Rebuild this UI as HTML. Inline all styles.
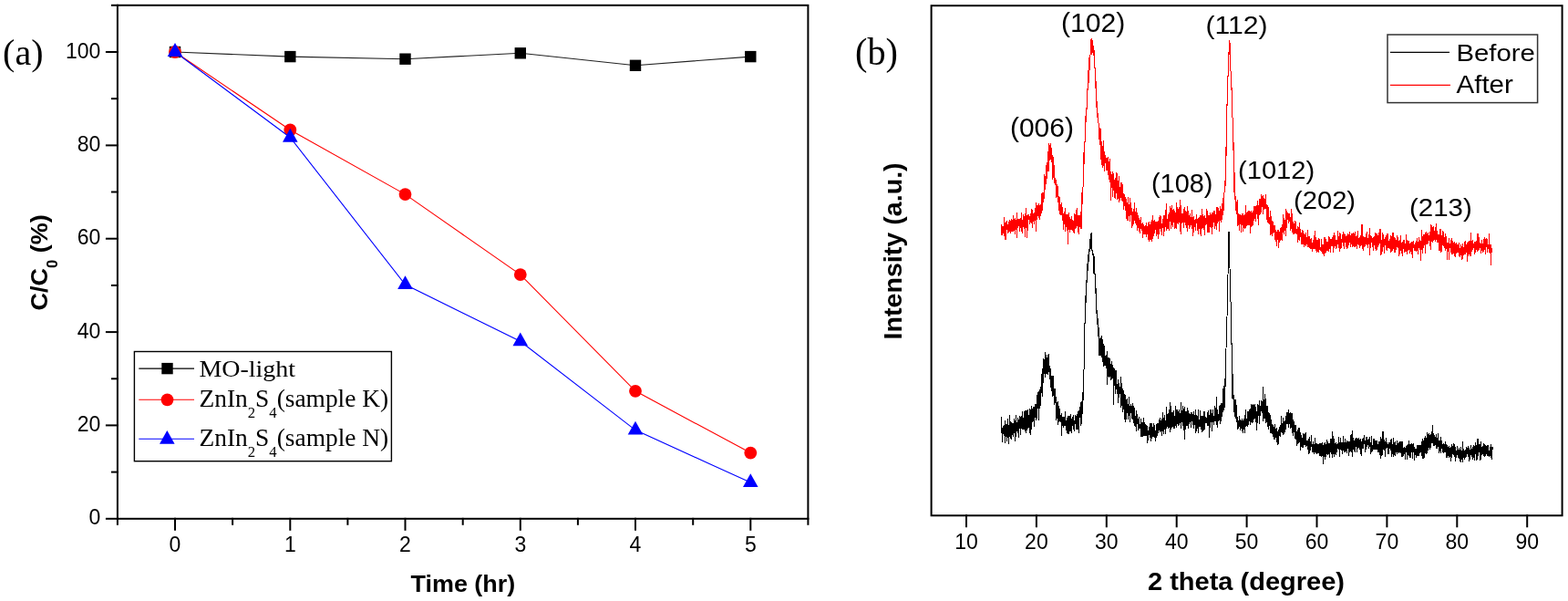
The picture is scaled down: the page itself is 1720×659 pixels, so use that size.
<!DOCTYPE html>
<html><head><meta charset="utf-8"><title>Figure</title>
<style>
html,body{margin:0;padding:0;background:#fff;}
body{width:1720px;height:659px;overflow:hidden;}
svg{display:block;}
.s{font-family:"Liberation Sans",Arial,sans-serif;}
.t{font-family:"Liberation Serif","Times New Roman",serif;}
</style></head><body>
<svg width="1720" height="659" viewBox="0 0 1720 659">
<rect width="1720" height="659" fill="#fff"/>

<g stroke="#000" stroke-width="2" fill="none" stroke-linecap="square">
<rect x="128.9" y="5.8" width="757.5" height="563.0"/>
<line x1="116.9" y1="568.8" x2="128.9" y2="568.8"/>
<line x1="116.9" y1="466.4" x2="128.9" y2="466.4"/>
<line x1="116.9" y1="364.1" x2="128.9" y2="364.1"/>
<line x1="116.9" y1="261.7" x2="128.9" y2="261.7"/>
<line x1="116.9" y1="159.4" x2="128.9" y2="159.4"/>
<line x1="116.9" y1="57.0" x2="128.9" y2="57.0"/>
<line x1="122.9" y1="517.6" x2="128.9" y2="517.6"/>
<line x1="122.9" y1="415.3" x2="128.9" y2="415.3"/>
<line x1="122.9" y1="312.9" x2="128.9" y2="312.9"/>
<line x1="122.9" y1="210.5" x2="128.9" y2="210.5"/>
<line x1="122.9" y1="108.2" x2="128.9" y2="108.2"/>
<line x1="122.9" y1="5.8" x2="128.9" y2="5.8"/>
<line x1="192.0" y1="568.8" x2="192.0" y2="580.8"/>
<line x1="318.3" y1="568.8" x2="318.3" y2="580.8"/>
<line x1="444.5" y1="568.8" x2="444.5" y2="580.8"/>
<line x1="570.8" y1="568.8" x2="570.8" y2="580.8"/>
<line x1="697.0" y1="568.8" x2="697.0" y2="580.8"/>
<line x1="823.3" y1="568.8" x2="823.3" y2="580.8"/>
<line x1="128.9" y1="568.8" x2="128.9" y2="574.8"/>
<line x1="255.1" y1="568.8" x2="255.1" y2="574.8"/>
<line x1="381.4" y1="568.8" x2="381.4" y2="574.8"/>
<line x1="507.7" y1="568.8" x2="507.7" y2="574.8"/>
<line x1="633.9" y1="568.8" x2="633.9" y2="574.8"/>
<line x1="760.2" y1="568.8" x2="760.2" y2="574.8"/>
<line x1="886.4" y1="568.8" x2="886.4" y2="574.8"/>
</g>
<g class="s" font-size="23" fill="#000">
<text x="110.4" y="575.4" text-anchor="end">0</text>
<text x="110.4" y="473.0" text-anchor="end">20</text>
<text x="110.4" y="370.7" text-anchor="end">40</text>
<text x="110.4" y="268.3" text-anchor="end">60</text>
<text x="110.4" y="166.0" text-anchor="end">80</text>
<text x="110.4" y="63.6" text-anchor="end">100</text>
<text x="192.0" y="604.6" text-anchor="middle">0</text>
<text x="318.3" y="604.6" text-anchor="middle">1</text>
<text x="444.5" y="604.6" text-anchor="middle">2</text>
<text x="570.8" y="604.6" text-anchor="middle">3</text>
<text x="697.0" y="604.6" text-anchor="middle">4</text>
<text x="823.3" y="604.6" text-anchor="middle">5</text>
</g>
<text font-family='"Liberation Sans", Arial, sans-serif' font-weight="bold" font-size="26" transform="translate(450.50,648.62) scale(1.0367,0.9756)" fill="#000">Time (hr)</text>
<text font-family='"Liberation Sans", Arial, sans-serif' font-weight="bold" font-size="26" transform="translate(51.86,340.55) rotate(-90) scale(1.0405,1.0137)" fill="#000">C/C<tspan font-size="16" dy="11.3">0</tspan><tspan dy="-11.3"> (%)</tspan></text>
<text font-family='"Liberation Serif", "Times New Roman", serif' font-weight="normal" font-size="41" transform="translate(3.05,70.51) scale(0.9765,1.0011)" fill="#000">(a)</text>
<polyline points="192.0,57.0 318.3,62.1 444.5,64.7 570.8,58.3 697.0,71.8 823.3,62.1" fill="none" stroke="#222" stroke-width="1.1"/>
<rect x="185.8" y="50.8" width="12.4" height="12.4" fill="#000"/>
<rect x="312.1" y="55.9" width="12.4" height="12.4" fill="#000"/>
<rect x="438.3" y="58.5" width="12.4" height="12.4" fill="#000"/>
<rect x="564.6" y="52.1" width="12.4" height="12.4" fill="#000"/>
<rect x="690.8" y="65.6" width="12.4" height="12.4" fill="#000"/>
<rect x="817.1" y="55.9" width="12.4" height="12.4" fill="#000"/>
<polyline points="192.0,57.0 318.3,142.5 444.5,213.1 570.8,301.1 697.0,428.8 823.3,496.6" fill="none" stroke="#f00" stroke-width="1.1"/>
<circle cx="192.0" cy="57.0" r="6.9" fill="#f00"/>
<circle cx="318.3" cy="142.5" r="6.9" fill="#f00"/>
<circle cx="444.5" cy="213.1" r="6.9" fill="#f00"/>
<circle cx="570.8" cy="301.1" r="6.9" fill="#f00"/>
<circle cx="697.0" cy="428.8" r="6.9" fill="#f00"/>
<circle cx="823.3" cy="496.6" r="6.9" fill="#f00"/>
<polyline points="192.0,57.0 318.3,150.7 444.5,312.1 570.8,374.3 697.0,471.6 823.3,529.1" fill="none" stroke="#00f" stroke-width="1.1"/>
<polygon points="192.0,47.1 200.3,62.0 183.7,62.0" fill="#00f"/>
<polygon points="318.3,140.8 326.6,155.7 310.0,155.7" fill="#00f"/>
<polygon points="444.5,302.2 452.8,317.1 436.2,317.1" fill="#00f"/>
<polygon points="570.8,364.4 579.1,379.3 562.5,379.3" fill="#00f"/>
<polygon points="697.0,461.7 705.3,476.6 688.7,476.6" fill="#00f"/>
<polygon points="823.3,519.2 831.6,534.1 815.0,534.1" fill="#00f"/>
<rect x="147.4" y="385.5" width="282" height="120.2" fill="#fff" stroke="#000" stroke-width="1.4"/>
<line x1="152.3" y1="404.1" x2="213" y2="404.1" stroke="#000" stroke-width="1.1"/>
<rect x="177.3" y="397.9" width="12.4" height="12.4" fill="#000"/>
<line x1="152.3" y1="438.3" x2="213" y2="438.3" stroke="#f00" stroke-width="1.1"/>
<circle cx="183.5" cy="438.3" r="6.9" fill="#f00"/>
<line x1="152.3" y1="481.2" x2="213" y2="481.2" stroke="#00f" stroke-width="1.1"/>
<polygon points="183.3,472.1 191.6,486.7 175.0,486.7" fill="#00f"/>
<text font-family='"Liberation Serif", "Times New Roman", serif' font-weight="normal" font-size="27" transform="translate(218.45,412.70) scale(1.0360,0.9684)" fill="#000">MO-light</text>
<text font-family='"Liberation Serif", "Times New Roman", serif' font-weight="normal" font-size="27" transform="translate(218.48,446.32) scale(1.0149,1.0154)" fill="#000">ZnIn<tspan font-size="16.5" dy="11.1">2</tspan><tspan dy="-11.1">S</tspan><tspan font-size="16.5" dy="11.1">4</tspan><tspan dy="-11.1">(sample K)</tspan></text>
<text font-family='"Liberation Serif", "Times New Roman", serif' font-weight="normal" font-size="27" transform="translate(218.48,489.37) scale(1.0149,1.0111)" fill="#000">ZnIn<tspan font-size="16.5" dy="11.1">2</tspan><tspan dy="-11.1">S</tspan><tspan font-size="16.5" dy="11.1">4</tspan><tspan dy="-11.1">(sample N)</tspan></text>
<g stroke="#000" stroke-width="2" fill="none" stroke-linecap="square">
<rect x="1021.6" y="6.2" width="692.0" height="559.1"/>
<line x1="1060.0" y1="565.3" x2="1060.0" y2="577.3"/>
<line x1="1136.9" y1="565.3" x2="1136.9" y2="577.3"/>
<line x1="1213.8" y1="565.3" x2="1213.8" y2="577.3"/>
<line x1="1290.7" y1="565.3" x2="1290.7" y2="577.3"/>
<line x1="1367.6" y1="565.3" x2="1367.6" y2="577.3"/>
<line x1="1444.5" y1="565.3" x2="1444.5" y2="577.3"/>
<line x1="1521.4" y1="565.3" x2="1521.4" y2="577.3"/>
<line x1="1598.3" y1="565.3" x2="1598.3" y2="577.3"/>
<line x1="1675.2" y1="565.3" x2="1675.2" y2="577.3"/>
</g>
<g class="s" font-size="23" fill="#000">
<text x="1060.0" y="601.6" text-anchor="middle">10</text>
<text x="1136.9" y="601.6" text-anchor="middle">20</text>
<text x="1213.8" y="601.6" text-anchor="middle">30</text>
<text x="1290.7" y="601.6" text-anchor="middle">40</text>
<text x="1367.6" y="601.6" text-anchor="middle">50</text>
<text x="1444.5" y="601.6" text-anchor="middle">60</text>
<text x="1521.4" y="601.6" text-anchor="middle">70</text>
<text x="1598.3" y="601.6" text-anchor="middle">80</text>
<text x="1675.2" y="601.6" text-anchor="middle">90</text>
</g>
<text font-family='"Liberation Sans", Arial, sans-serif' font-weight="bold" font-size="28.5" transform="translate(1258.99,646.78) scale(1.0181,0.9546)" fill="#000">2 theta (degree)</text>
<text font-family='"Liberation Sans", Arial, sans-serif' font-weight="bold" font-size="28" transform="translate(989.17,372.55) rotate(-90) scale(1.0237,0.9722)" fill="#000">Intensity (a.u.)</text>
<text font-family='"Liberation Serif", "Times New Roman", serif' font-weight="normal" font-size="41" transform="translate(938.04,70.50) scale(0.9821,1.0033)" fill="#000">(b)</text>
<polyline points="1098.5,475.2 1098.6,469.5 1098.8,470.2 1098.9,456.8 1099.1,484.8 1099.2,480.5 1099.3,470.8 1099.5,478.0 1099.6,474.7 1099.8,469.2 1099.9,479.3 1100.0,470.8 1100.2,470.6 1100.3,467.5 1100.5,475.7 1100.6,472.1 1100.7,476.3 1100.9,468.7 1101.0,473.5 1101.2,466.7 1101.3,478.1 1101.4,473.8 1101.6,474.7 1101.7,475.2 1101.9,465.8 1102.0,477.6 1102.1,485.9 1102.3,461.6 1102.4,461.0 1102.6,462.5 1102.7,477.8 1102.8,473.1 1103.0,479.3 1103.1,476.9 1103.3,473.6 1103.4,474.0 1103.5,471.0 1103.7,477.8 1103.8,464.7 1104.0,469.3 1104.1,473.6 1104.2,483.7 1104.4,466.9 1104.5,464.8 1104.7,468.2 1104.8,478.1 1104.9,470.2 1105.1,480.4 1105.2,459.5 1105.4,479.0 1105.5,478.4 1105.6,462.4 1105.8,472.6 1105.9,479.4 1106.1,472.1 1106.2,477.9 1106.3,486.8 1106.5,473.1 1106.6,469.5 1106.8,466.3 1106.9,475.4 1107.0,469.9 1107.2,470.0 1107.3,470.4 1107.5,475.3 1107.6,464.1 1107.7,461.0 1107.9,455.1 1108.0,478.6 1108.2,471.3 1108.3,480.5 1108.4,470.6 1108.6,465.8 1108.7,473.7 1108.9,470.0 1109.0,462.4 1109.1,464.7 1109.3,481.8 1109.4,472.6 1109.6,472.9 1109.7,468.4 1109.8,465.7 1110.0,475.8 1110.1,469.3 1110.3,465.0 1110.4,469.0 1110.5,463.9 1110.7,470.9 1110.8,476.9 1111.0,464.2 1111.1,478.7 1111.2,465.2 1111.4,470.4 1111.5,463.9 1111.7,467.8 1111.8,469.5 1111.9,466.3 1112.1,464.5 1112.2,464.6 1112.4,463.6 1112.5,458.8 1112.6,467.1 1112.8,471.3 1112.9,474.5 1113.1,472.7 1113.2,484.3 1113.3,470.5 1113.5,465.5 1113.6,480.3 1113.8,461.5 1113.9,474.4 1114.0,462.0 1114.2,470.3 1114.3,455.3 1114.5,473.7 1114.6,466.8 1114.7,461.6 1114.9,478.5 1115.0,472.5 1115.2,467.9 1115.3,462.7 1115.4,467.2 1115.6,466.3 1115.7,472.0 1115.9,472.4 1116.0,462.9 1116.1,463.6 1116.3,463.6 1116.4,458.4 1116.6,463.1 1116.7,466.3 1116.8,471.2 1117.0,475.2 1117.1,461.5 1117.3,470.1 1117.4,461.5 1117.5,479.7 1117.7,466.1 1117.8,469.6 1118.0,460.3 1118.1,461.1 1118.2,467.5 1118.4,463.7 1118.5,468.3 1118.7,456.1 1118.8,470.2 1118.9,460.2 1119.1,476.8 1119.2,463.9 1119.4,472.7 1119.5,456.8 1119.6,468.3 1119.8,459.9 1119.9,462.4 1120.1,465.7 1120.2,463.3 1120.3,467.0 1120.5,470.0 1120.6,469.3 1120.8,464.5 1120.9,456.4 1121.0,459.9 1121.2,463.7 1121.3,451.4 1121.5,469.5 1121.6,463.2 1121.7,463.0 1121.9,470.6 1122.0,468.7 1122.2,465.8 1122.3,458.0 1122.4,466.3 1122.6,466.4 1122.7,458.6 1122.9,470.7 1123.0,467.2 1123.1,451.5 1123.3,464.7 1123.4,455.8 1123.6,470.9 1123.7,468.8 1123.8,456.6 1124.0,457.9 1124.1,464.1 1124.3,461.9 1124.4,472.9 1124.5,467.9 1124.7,461.4 1124.8,466.7 1125.0,450.2 1125.1,464.9 1125.2,468.3 1125.4,461.7 1125.5,458.2 1125.7,466.2 1125.8,474.9 1125.9,463.8 1126.1,455.4 1126.2,471.5 1126.4,450.5 1126.5,465.4 1126.6,458.5 1126.8,467.9 1126.9,456.7 1127.1,470.2 1127.2,463.7 1127.3,450.9 1127.5,449.3 1127.6,459.6 1127.8,469.7 1127.9,462.3 1128.0,461.8 1128.2,459.8 1128.3,465.9 1128.5,465.4 1128.6,462.8 1128.7,454.8 1128.9,468.4 1129.0,469.4 1129.2,452.6 1129.3,475.1 1129.4,465.1 1129.6,457.4 1129.7,448.5 1129.9,464.4 1130.0,463.7 1130.1,456.4 1130.3,448.8 1130.4,467.0 1130.6,456.1 1130.7,456.8 1130.8,477.4 1131.0,472.8 1131.1,465.4 1131.3,456.4 1131.4,463.2 1131.5,444.8 1131.7,459.6 1131.8,454.1 1132.0,450.7 1132.1,448.7 1132.2,461.7 1132.4,458.9 1132.5,459.2 1132.7,463.3 1132.8,452.6 1132.9,450.1 1133.1,446.5 1133.2,455.4 1133.4,462.1 1133.5,456.3 1133.6,461.1 1133.8,449.5 1133.9,453.8 1134.1,451.8 1134.2,448.5 1134.3,467.8 1134.5,461.3 1134.6,450.9 1134.8,450.7 1134.9,454.9 1135.0,445.9 1135.2,457.5 1135.3,446.3 1135.5,451.8 1135.6,447.4 1135.7,450.5 1135.9,444.8 1136.0,443.0 1136.2,446.5 1136.3,447.9 1136.4,450.0 1136.6,452.0 1136.7,460.9 1136.9,456.0 1137.0,448.8 1137.1,454.7 1137.3,445.3 1137.4,458.5 1137.6,452.4 1137.7,432.8 1137.8,452.9 1138.0,452.9 1138.1,429.9 1138.3,441.9 1138.4,443.3 1138.5,433.4 1138.7,438.5 1138.8,438.8 1139.0,447.7 1139.1,445.8 1139.2,460.5 1139.4,440.2 1139.5,449.7 1139.7,442.1 1139.8,442.7 1139.9,432.6 1140.1,427.0 1140.2,433.8 1140.4,443.3 1140.5,448.0 1140.6,440.8 1140.8,439.4 1140.9,429.6 1141.1,444.8 1141.2,442.8 1141.3,429.3 1141.5,431.8 1141.6,424.5 1141.8,440.5 1141.9,432.4 1142.0,428.1 1142.2,430.6 1142.3,429.9 1142.5,422.9 1142.6,416.0 1142.7,414.5 1142.9,410.0 1143.0,424.2 1143.2,435.3 1143.3,406.3 1143.4,418.0 1143.6,418.7 1143.7,407.4 1143.9,414.7 1144.0,404.0 1144.1,419.5 1144.3,405.3 1144.4,409.3 1144.6,412.6 1144.7,403.5 1144.8,392.6 1145.0,401.2 1145.1,410.1 1145.3,403.1 1145.4,404.8 1145.5,394.4 1145.7,402.8 1145.8,406.5 1146.0,400.7 1146.1,414.2 1146.2,397.9 1146.4,391.2 1146.5,386.5 1146.7,406.9 1146.8,397.7 1146.9,405.6 1147.1,401.4 1147.2,410.2 1147.4,407.6 1147.5,395.4 1147.6,400.4 1147.8,406.6 1147.9,389.5 1148.1,409.6 1148.2,408.1 1148.3,406.6 1148.5,398.1 1148.6,402.1 1148.8,391.9 1148.9,400.9 1149.0,396.4 1149.2,401.7 1149.3,394.9 1149.5,403.8 1149.6,410.7 1149.7,392.9 1149.9,409.4 1150.0,388.6 1150.2,387.7 1150.3,402.9 1150.4,404.2 1150.6,407.8 1150.7,393.2 1150.9,405.1 1151.0,407.0 1151.1,415.6 1151.3,406.4 1151.4,411.5 1151.6,401.3 1151.7,407.5 1151.8,406.3 1152.0,415.1 1152.1,403.8 1152.3,405.6 1152.4,416.2 1152.5,425.3 1152.7,416.2 1152.8,416.3 1153.0,412.5 1153.1,423.1 1153.2,420.0 1153.4,429.0 1153.5,420.0 1153.7,411.9 1153.8,415.2 1153.9,413.1 1154.1,412.0 1154.2,429.8 1154.4,427.4 1154.5,414.3 1154.6,435.3 1154.8,425.6 1154.9,418.2 1155.1,429.9 1155.2,425.5 1155.3,421.4 1155.5,414.4 1155.6,428.2 1155.8,430.5 1155.9,412.3 1156.0,433.6 1156.2,434.7 1156.3,425.8 1156.5,432.8 1156.6,430.9 1156.7,428.0 1156.9,429.9 1157.0,443.5 1157.2,426.2 1157.3,437.7 1157.4,438.0 1157.6,433.1 1157.7,435.4 1157.9,430.1 1158.0,434.2 1158.1,440.3 1158.3,442.9 1158.4,435.9 1158.6,461.1 1158.7,439.2 1158.8,444.1 1159.0,442.5 1159.1,442.0 1159.3,453.1 1159.4,442.8 1159.5,454.4 1159.7,453.9 1159.8,441.2 1160.0,459.4 1160.1,444.8 1160.2,465.8 1160.4,447.6 1160.5,444.9 1160.7,439.7 1160.8,444.0 1160.9,448.8 1161.1,446.9 1161.2,446.1 1161.4,449.8 1161.5,453.2 1161.6,463.4 1161.8,445.4 1161.9,452.6 1162.1,450.7 1162.2,447.8 1162.3,449.7 1162.5,452.1 1162.6,461.8 1162.8,456.8 1162.9,455.1 1163.0,461.9 1163.2,460.3 1163.3,457.6 1163.5,461.4 1163.6,454.7 1163.7,463.2 1163.9,462.5 1164.0,457.7 1164.2,453.3 1164.3,469.1 1164.4,461.2 1164.6,478.2 1164.7,457.4 1164.9,466.1 1165.0,459.0 1165.1,463.1 1165.3,466.6 1165.4,457.5 1165.6,461.6 1165.7,463.3 1165.8,463.1 1166.0,466.0 1166.1,468.5 1166.3,467.6 1166.4,464.5 1166.5,461.2 1166.7,457.0 1166.8,459.3 1167.0,460.5 1167.1,467.4 1167.2,461.6 1167.4,456.8 1167.5,467.3 1167.7,459.4 1167.8,459.7 1167.9,462.7 1168.1,466.7 1168.2,450.6 1168.4,457.8 1168.5,465.1 1168.6,462.1 1168.8,459.4 1168.9,461.2 1169.1,472.0 1169.2,461.8 1169.3,468.3 1169.5,468.8 1169.6,461.9 1169.8,466.9 1169.9,461.9 1170.0,461.1 1170.2,458.2 1170.3,469.4 1170.5,462.3 1170.6,461.5 1170.7,458.3 1170.9,474.7 1171.0,468.8 1171.2,463.9 1171.3,460.8 1171.4,456.2 1171.6,466.4 1171.7,466.4 1171.9,457.0 1172.0,476.4 1172.1,469.1 1172.3,459.5 1172.4,461.8 1172.6,462.5 1172.7,465.8 1172.8,464.1 1173.0,455.8 1173.1,473.1 1173.3,466.7 1173.4,471.9 1173.5,471.9 1173.7,463.8 1173.8,466.9 1174.0,469.1 1174.1,472.7 1174.2,464.1 1174.4,461.6 1174.5,465.2 1174.7,460.6 1174.8,461.9 1174.9,453.8 1175.1,465.5 1175.2,459.3 1175.4,461.9 1175.5,464.7 1175.6,466.7 1175.8,475.4 1175.9,466.1 1176.1,457.1 1176.2,465.6 1176.3,461.6 1176.5,467.1 1176.6,461.0 1176.8,460.9 1176.9,461.9 1177.0,461.3 1177.2,454.6 1177.3,461.0 1177.5,464.5 1177.6,471.3 1177.7,462.9 1177.9,462.4 1178.0,467.7 1178.2,467.4 1178.3,473.2 1178.4,467.5 1178.6,464.1 1178.7,471.6 1178.9,472.6 1179.0,461.4 1179.1,464.9 1179.3,454.6 1179.4,461.8 1179.6,458.9 1179.7,462.5 1179.8,461.0 1180.0,462.7 1180.1,462.9 1180.3,466.2 1180.4,464.6 1180.5,460.1 1180.7,456.0 1180.8,470.0 1181.0,471.0 1181.1,460.4 1181.2,466.0 1181.4,454.1 1181.5,453.8 1181.7,460.9 1181.8,470.5 1181.9,456.1 1182.1,457.1 1182.2,470.6 1182.4,450.6 1182.5,464.7 1182.6,463.5 1182.8,459.3 1182.9,461.2 1183.1,474.8 1183.2,453.0 1183.3,457.3 1183.5,456.3 1183.6,454.4 1183.8,450.2 1183.9,466.7 1184.0,458.4 1184.2,446.5 1184.3,452.1 1184.5,458.1 1184.6,457.6 1184.7,446.4 1184.9,453.8 1185.0,455.3 1185.2,455.6 1185.3,455.1 1185.4,441.4 1185.6,462.7 1185.7,452.4 1185.9,461.4 1186.0,467.2 1186.1,448.5 1186.3,441.4 1186.4,453.5 1186.6,446.5 1186.7,444.1 1186.8,439.8 1187.0,455.7 1187.1,441.8 1187.3,434.9 1187.4,439.7 1187.5,434.1 1187.7,441.1 1187.8,436.1 1188.0,430.5 1188.1,439.4 1188.2,429.7 1188.4,436.2 1188.5,435.5 1188.7,418.6 1188.8,409.1 1188.9,406.8 1189.1,403.4 1189.2,388.3 1189.4,381.6 1189.5,373.6 1189.6,370.0 1189.8,366.7 1189.9,356.4 1190.1,353.0 1190.2,350.9 1190.3,343.7 1190.5,343.1 1190.6,340.8 1190.8,334.6 1190.9,328.4 1191.0,324.1 1191.2,331.6 1191.3,324.6 1191.5,312.9 1191.6,311.1 1191.7,320.1 1191.9,315.9 1192.0,307.5 1192.2,309.7 1192.3,296.2 1192.4,300.8 1192.6,302.2 1192.7,289.3 1192.9,292.3 1193.0,297.4 1193.1,297.2 1193.3,288.2 1193.4,290.4 1193.6,294.5 1193.7,284.4 1193.8,278.8 1194.0,282.8 1194.1,279.9 1194.3,285.9 1194.4,279.6 1194.5,274.1 1194.7,286.7 1194.8,273.0 1195.0,276.1 1195.1,275.9 1195.2,275.4 1195.4,271.8 1195.5,272.7 1195.7,269.1 1195.8,262.5 1195.9,266.3 1196.1,266.5 1196.2,266.1 1196.4,267.1 1196.5,263.5 1196.6,271.7 1196.8,272.6 1196.9,256.3 1197.1,265.9 1197.2,263.1 1197.3,255.3 1197.5,268.9 1197.6,265.1 1197.8,266.9 1197.9,266.7 1198.0,275.2 1198.2,276.9 1198.3,273.9 1198.5,277.0 1198.6,274.8 1198.7,277.3 1198.9,274.9 1199.0,279.7 1199.2,277.9 1199.3,284.1 1199.4,287.6 1199.6,286.9 1199.7,292.2 1199.9,300.2 1200.0,280.9 1200.1,291.6 1200.3,290.7 1200.4,293.0 1200.6,291.0 1200.7,299.2 1200.8,300.0 1201.0,300.6 1201.1,304.5 1201.3,305.4 1201.4,300.2 1201.5,317.4 1201.7,313.9 1201.8,313.6 1202.0,321.6 1202.1,319.9 1202.2,315.8 1202.4,331.5 1202.5,322.9 1202.7,331.5 1202.8,335.3 1202.9,342.8 1203.1,344.3 1203.2,341.9 1203.4,339.9 1203.5,343.2 1203.6,351.5 1203.8,356.3 1203.9,352.7 1204.1,349.4 1204.2,358.4 1204.3,354.2 1204.5,355.8 1204.6,358.1 1204.8,363.6 1204.9,363.9 1205.0,368.6 1205.2,371.5 1205.3,369.6 1205.5,358.8 1205.6,362.9 1205.7,372.3 1205.9,372.3 1206.0,390.3 1206.2,374.7 1206.3,374.7 1206.4,383.8 1206.6,385.4 1206.7,376.3 1206.9,382.3 1207.0,370.8 1207.1,372.8 1207.3,389.8 1207.4,370.4 1207.6,388.5 1207.7,387.2 1207.8,388.3 1208.0,389.9 1208.1,387.7 1208.3,367.7 1208.4,376.7 1208.5,380.2 1208.7,392.0 1208.8,376.9 1209.0,380.5 1209.1,383.5 1209.2,396.5 1209.4,376.0 1209.5,377.0 1209.7,392.4 1209.8,371.9 1209.9,390.8 1210.1,385.2 1210.2,377.1 1210.4,386.2 1210.5,382.1 1210.6,391.3 1210.8,393.2 1210.9,402.0 1211.1,391.1 1211.2,392.3 1211.3,387.6 1211.5,392.1 1211.6,400.5 1211.8,378.6 1211.9,398.3 1212.0,389.8 1212.2,394.7 1212.3,396.9 1212.5,401.2 1212.6,397.0 1212.7,392.7 1212.9,398.2 1213.0,396.4 1213.2,395.1 1213.3,398.5 1213.4,403.8 1213.6,398.7 1213.7,399.1 1213.9,388.8 1214.0,397.7 1214.1,385.3 1214.3,404.6 1214.4,392.7 1214.6,409.4 1214.7,422.2 1214.8,397.7 1215.0,410.6 1215.1,404.1 1215.3,394.2 1215.4,395.6 1215.5,406.1 1215.7,412.5 1215.8,405.2 1216.0,392.0 1216.1,395.6 1216.2,401.8 1216.4,413.6 1216.5,406.0 1216.7,406.6 1216.8,413.2 1216.9,403.3 1217.1,404.3 1217.2,403.9 1217.4,392.7 1217.5,409.0 1217.6,408.9 1217.8,413.1 1217.9,397.8 1218.1,400.7 1218.2,413.5 1218.3,409.3 1218.5,417.1 1218.6,401.3 1218.8,409.1 1218.9,403.1 1219.0,410.3 1219.2,404.9 1219.3,412.3 1219.5,416.4 1219.6,413.8 1219.7,396.3 1219.9,416.1 1220.0,412.8 1220.2,402.5 1220.3,403.8 1220.4,410.4 1220.6,414.6 1220.7,407.6 1220.9,399.6 1221.0,413.3 1221.1,412.7 1221.3,429.0 1221.4,403.0 1221.6,444.2 1221.7,424.8 1221.8,415.0 1222.0,424.8 1222.1,414.1 1222.3,420.6 1222.4,404.9 1222.5,414.9 1222.7,407.7 1222.8,404.1 1223.0,413.5 1223.1,411.2 1223.2,420.0 1223.4,432.2 1223.5,415.6 1223.7,417.5 1223.8,418.8 1223.9,406.3 1224.1,420.1 1224.2,418.7 1224.4,418.7 1224.5,411.8 1224.6,406.2 1224.8,418.4 1224.9,422.6 1225.1,430.0 1225.2,428.9 1225.3,431.5 1225.5,424.5 1225.6,430.2 1225.8,421.4 1225.9,427.4 1226.0,429.8 1226.2,442.0 1226.3,425.9 1226.5,416.1 1226.6,434.2 1226.7,420.1 1226.9,425.3 1227.0,424.1 1227.2,420.4 1227.3,435.6 1227.4,431.1 1227.6,423.4 1227.7,428.3 1227.9,425.3 1228.0,432.6 1228.1,426.4 1228.3,424.2 1228.4,425.4 1228.6,427.1 1228.7,432.2 1228.8,424.6 1229.0,430.4 1229.1,434.3 1229.3,447.0 1229.4,437.7 1229.5,413.1 1229.7,429.5 1229.8,430.6 1230.0,435.6 1230.1,444.0 1230.2,439.0 1230.4,419.7 1230.5,436.8 1230.7,435.9 1230.8,438.2 1230.9,444.6 1231.1,429.2 1231.2,443.6 1231.4,426.3 1231.5,437.5 1231.6,439.9 1231.8,452.3 1231.9,433.7 1232.1,427.7 1232.2,443.1 1232.3,434.9 1232.5,449.2 1232.6,435.2 1232.8,434.4 1232.9,448.0 1233.0,441.0 1233.2,447.0 1233.3,432.1 1233.5,459.9 1233.6,437.9 1233.7,446.9 1233.9,435.8 1234.0,432.7 1234.2,441.0 1234.3,444.0 1234.4,452.9 1234.6,445.6 1234.7,448.1 1234.9,448.0 1235.0,463.3 1235.1,439.3 1235.3,452.4 1235.4,443.9 1235.6,446.7 1235.7,442.0 1235.8,452.7 1236.0,438.1 1236.1,438.0 1236.3,445.0 1236.4,439.4 1236.5,451.0 1236.7,452.6 1236.8,442.6 1237.0,452.2 1237.1,443.6 1237.2,447.6 1237.4,448.1 1237.5,459.6 1237.7,448.5 1237.8,443.2 1237.9,443.4 1238.1,456.3 1238.2,439.3 1238.4,444.4 1238.5,447.4 1238.6,435.2 1238.8,447.3 1238.9,456.3 1239.1,451.9 1239.2,445.3 1239.3,455.0 1239.5,454.1 1239.6,463.3 1239.8,447.0 1239.9,449.3 1240.0,452.0 1240.2,451.1 1240.3,452.6 1240.5,451.7 1240.6,448.4 1240.7,443.2 1240.9,449.5 1241.0,444.8 1241.2,447.0 1241.3,450.1 1241.4,456.5 1241.6,458.7 1241.7,447.7 1241.9,455.8 1242.0,458.9 1242.1,454.1 1242.3,444.9 1242.4,442.0 1242.6,459.5 1242.7,460.4 1242.8,458.0 1243.0,449.2 1243.1,464.0 1243.3,462.8 1243.4,455.7 1243.5,454.8 1243.7,445.0 1243.8,460.9 1244.0,447.4 1244.1,463.9 1244.2,461.4 1244.4,457.9 1244.5,466.7 1244.7,455.9 1244.8,461.4 1244.9,462.8 1245.1,459.9 1245.2,456.3 1245.4,466.0 1245.5,461.6 1245.6,458.3 1245.8,458.7 1245.9,460.6 1246.1,473.1 1246.2,461.3 1246.3,459.2 1246.5,454.7 1246.6,454.1 1246.8,450.5 1246.9,462.8 1247.0,461.9 1247.2,456.2 1247.3,453.8 1247.5,460.6 1247.6,459.7 1247.7,455.4 1247.9,464.8 1248.0,464.1 1248.2,463.2 1248.3,468.1 1248.4,460.3 1248.6,471.8 1248.7,458.8 1248.9,467.5 1249.0,468.4 1249.1,463.6 1249.3,467.2 1249.4,458.4 1249.6,457.4 1249.7,464.8 1249.8,462.2 1250.0,469.7 1250.1,466.8 1250.3,470.3 1250.4,468.9 1250.5,468.5 1250.7,468.1 1250.8,465.8 1251.0,465.6 1251.1,479.4 1251.2,459.0 1251.4,467.8 1251.5,474.5 1251.7,471.5 1251.8,477.1 1251.9,472.7 1252.1,463.1 1252.2,468.4 1252.4,462.8 1252.5,475.8 1252.6,478.5 1252.8,468.6 1252.9,474.0 1253.1,469.1 1253.2,463.8 1253.3,469.3 1253.5,463.4 1253.6,469.0 1253.8,473.2 1253.9,476.1 1254.0,479.2 1254.2,470.7 1254.3,473.8 1254.5,474.9 1254.6,475.7 1254.7,457.8 1254.9,468.8 1255.0,477.2 1255.2,467.2 1255.3,474.4 1255.4,477.6 1255.6,463.3 1255.7,472.3 1255.9,474.7 1256.0,473.5 1256.1,465.5 1256.3,475.4 1256.4,470.7 1256.6,478.1 1256.7,476.1 1256.8,471.0 1257.0,474.8 1257.1,470.4 1257.3,470.4 1257.4,465.8 1257.5,472.9 1257.7,478.4 1257.8,474.8 1258.0,474.2 1258.1,471.0 1258.2,471.6 1258.4,478.3 1258.5,466.7 1258.7,485.3 1258.8,474.2 1258.9,485.9 1259.1,480.8 1259.2,472.5 1259.4,478.5 1259.5,476.1 1259.6,477.2 1259.8,478.9 1259.9,472.0 1260.1,471.7 1260.2,472.7 1260.3,467.8 1260.5,473.6 1260.6,476.2 1260.8,476.3 1260.9,476.1 1261.0,473.0 1261.2,479.2 1261.3,464.5 1261.5,473.1 1261.6,473.4 1261.7,479.8 1261.9,478.6 1262.0,479.3 1262.2,475.3 1262.3,480.1 1262.4,470.0 1262.6,475.6 1262.7,464.3 1262.9,484.1 1263.0,483.5 1263.1,472.1 1263.3,470.8 1263.4,464.4 1263.6,467.3 1263.7,475.9 1263.8,474.4 1264.0,467.6 1264.1,472.6 1264.3,471.7 1264.4,477.6 1264.5,478.8 1264.7,473.9 1264.8,475.6 1265.0,474.9 1265.1,464.0 1265.2,475.7 1265.4,474.3 1265.5,478.5 1265.7,464.9 1265.8,478.3 1265.9,470.9 1266.1,475.5 1266.2,480.3 1266.4,466.2 1266.5,466.9 1266.6,478.8 1266.8,467.5 1266.9,468.3 1267.1,476.4 1267.2,472.0 1267.3,477.0 1267.5,475.0 1267.6,472.5 1267.8,477.7 1267.9,483.9 1268.0,471.6 1268.2,479.8 1268.3,477.9 1268.5,472.3 1268.6,474.0 1268.7,466.5 1268.9,464.8 1269.0,472.6 1269.2,470.8 1269.3,477.8 1269.4,463.8 1269.6,469.1 1269.7,467.1 1269.9,469.6 1270.0,476.5 1270.1,463.7 1270.3,474.6 1270.4,466.8 1270.6,468.1 1270.7,475.1 1270.8,468.1 1271.0,473.1 1271.1,470.0 1271.3,468.4 1271.4,467.3 1271.5,459.8 1271.7,465.0 1271.8,469.8 1272.0,469.9 1272.1,460.6 1272.2,474.0 1272.4,471.6 1272.5,461.3 1272.7,462.6 1272.8,470.9 1272.9,458.5 1273.1,463.9 1273.2,467.6 1273.4,467.1 1273.5,467.3 1273.6,469.7 1273.8,463.1 1273.9,464.7 1274.1,478.4 1274.2,459.5 1274.3,464.6 1274.5,467.5 1274.6,463.3 1274.8,473.4 1274.9,467.0 1275.0,470.7 1275.2,452.1 1275.3,472.8 1275.5,472.5 1275.6,462.0 1275.7,473.2 1275.9,467.4 1276.0,470.9 1276.2,475.7 1276.3,466.2 1276.4,459.9 1276.6,465.3 1276.7,458.3 1276.9,460.8 1277.0,460.9 1277.1,461.0 1277.3,471.3 1277.4,469.4 1277.6,459.7 1277.7,470.8 1277.8,455.1 1278.0,460.7 1278.1,463.4 1278.3,475.6 1278.4,468.0 1278.5,466.4 1278.7,471.0 1278.8,467.6 1279.0,471.1 1279.1,459.0 1279.2,445.9 1279.4,460.8 1279.5,467.7 1279.7,464.4 1279.8,467.8 1279.9,466.7 1280.1,465.5 1280.2,467.1 1280.4,458.3 1280.5,468.4 1280.6,456.5 1280.8,461.4 1280.9,454.0 1281.1,464.7 1281.2,453.0 1281.3,469.5 1281.5,453.9 1281.6,462.9 1281.8,460.5 1281.9,456.3 1282.0,468.2 1282.2,458.6 1282.3,469.3 1282.5,455.1 1282.6,456.3 1282.7,449.4 1282.9,463.8 1283.0,465.8 1283.2,461.8 1283.3,458.6 1283.4,455.2 1283.6,473.7 1283.7,464.5 1283.9,441.1 1284.0,458.4 1284.1,445.3 1284.3,469.1 1284.4,471.3 1284.6,468.3 1284.7,459.6 1284.8,456.5 1285.0,451.8 1285.1,462.7 1285.3,455.4 1285.4,457.4 1285.5,455.9 1285.7,457.7 1285.8,464.6 1286.0,469.0 1286.1,460.2 1286.2,459.4 1286.4,452.8 1286.5,452.1 1286.7,453.0 1286.8,464.1 1286.9,460.4 1287.1,464.5 1287.2,461.4 1287.4,456.6 1287.5,451.7 1287.6,456.7 1287.8,450.5 1287.9,470.2 1288.1,460.2 1288.2,456.5 1288.3,470.1 1288.5,456.4 1288.6,461.7 1288.8,457.6 1288.9,460.5 1289.0,456.3 1289.2,463.3 1289.3,466.6 1289.5,451.1 1289.6,445.5 1289.7,466.1 1289.9,459.3 1290.0,463.3 1290.2,456.6 1290.3,467.2 1290.4,468.8 1290.6,451.5 1290.7,462.1 1290.9,454.7 1291.0,448.9 1291.1,456.5 1291.3,461.5 1291.4,450.3 1291.6,450.7 1291.7,465.3 1291.8,458.4 1292.0,460.5 1292.1,451.5 1292.3,454.4 1292.4,458.9 1292.5,459.2 1292.7,459.0 1292.8,467.4 1293.0,459.1 1293.1,449.2 1293.2,453.0 1293.4,457.8 1293.5,465.5 1293.7,454.1 1293.8,455.8 1293.9,457.4 1294.1,454.0 1294.2,453.3 1294.4,456.8 1294.5,463.9 1294.6,460.9 1294.8,456.5 1294.9,460.5 1295.1,450.7 1295.2,464.0 1295.3,462.5 1295.5,459.9 1295.6,448.8 1295.8,470.0 1295.9,441.3 1296.0,452.5 1296.2,453.0 1296.3,462.4 1296.5,449.7 1296.6,459.8 1296.7,457.5 1296.9,454.8 1297.0,463.4 1297.2,466.8 1297.3,460.8 1297.4,457.0 1297.6,445.4 1297.7,467.1 1297.9,456.9 1298.0,448.0 1298.1,459.7 1298.3,467.1 1298.4,458.0 1298.6,452.1 1298.7,471.9 1298.8,462.5 1299.0,460.9 1299.1,464.9 1299.3,446.5 1299.4,458.7 1299.5,458.1 1299.7,482.2 1299.8,452.8 1300.0,456.0 1300.1,451.2 1300.2,454.5 1300.4,458.1 1300.5,460.9 1300.7,458.2 1300.8,471.0 1300.9,462.3 1301.1,463.1 1301.2,467.4 1301.4,463.2 1301.5,456.5 1301.6,450.7 1301.8,461.7 1301.9,454.8 1302.1,467.3 1302.2,455.3 1302.3,446.9 1302.5,460.0 1302.6,465.9 1302.8,458.6 1302.9,460.9 1303.0,460.7 1303.2,469.8 1303.3,461.6 1303.5,459.6 1303.6,456.3 1303.7,450.4 1303.9,468.0 1304.0,466.6 1304.2,454.5 1304.3,463.5 1304.4,461.9 1304.6,457.8 1304.7,458.2 1304.9,464.4 1305.0,453.1 1305.1,457.1 1305.3,459.6 1305.4,460.1 1305.6,458.9 1305.7,461.4 1305.8,463.2 1306.0,455.0 1306.1,460.7 1306.3,457.2 1306.4,468.9 1306.5,452.1 1306.7,458.9 1306.8,464.3 1307.0,458.7 1307.1,458.4 1307.2,457.2 1307.4,462.2 1307.5,453.7 1307.7,459.9 1307.8,459.8 1307.9,452.0 1308.1,462.1 1308.2,457.8 1308.4,462.3 1308.5,465.5 1308.6,462.6 1308.8,453.8 1308.9,462.5 1309.1,451.5 1309.2,456.3 1309.3,470.3 1309.5,460.8 1309.6,469.7 1309.8,459.8 1309.9,460.9 1310.0,454.5 1310.2,466.3 1310.3,459.8 1310.5,464.5 1310.6,463.5 1310.7,464.1 1310.9,462.9 1311.0,460.8 1311.2,461.1 1311.3,457.1 1311.4,449.0 1311.6,464.0 1311.7,473.1 1311.9,467.4 1312.0,474.6 1312.1,464.1 1312.3,455.8 1312.4,455.7 1312.6,465.7 1312.7,463.4 1312.8,460.5 1313.0,465.7 1313.1,456.5 1313.3,464.5 1313.4,458.6 1313.5,462.5 1313.7,468.4 1313.8,460.2 1314.0,469.5 1314.1,469.3 1314.2,457.4 1314.4,475.0 1314.5,454.7 1314.7,461.2 1314.8,466.0 1314.9,448.8 1315.1,467.7 1315.2,468.3 1315.4,461.2 1315.5,463.4 1315.6,463.1 1315.8,460.7 1315.9,468.0 1316.1,459.8 1316.2,461.7 1316.3,464.0 1316.5,466.8 1316.6,468.3 1316.8,453.5 1316.9,450.4 1317.0,461.2 1317.2,461.7 1317.3,455.8 1317.5,463.7 1317.6,465.6 1317.7,464.2 1317.9,471.4 1318.0,456.1 1318.2,462.1 1318.3,473.0 1318.4,465.9 1318.6,455.6 1318.7,463.2 1318.9,468.8 1319.0,473.9 1319.1,465.8 1319.3,468.7 1319.4,455.7 1319.6,460.6 1319.7,468.9 1319.8,456.5 1320.0,461.7 1320.1,451.3 1320.3,470.5 1320.4,460.7 1320.5,465.2 1320.7,453.4 1320.8,454.5 1321.0,472.4 1321.1,460.0 1321.2,458.8 1321.4,464.9 1321.5,465.1 1321.7,450.7 1321.8,456.3 1321.9,462.2 1322.1,461.9 1322.2,463.9 1322.4,459.4 1322.5,460.2 1322.6,463.0 1322.8,457.8 1322.9,457.0 1323.1,458.6 1323.2,461.7 1323.3,460.8 1323.5,458.9 1323.6,460.2 1323.8,461.3 1323.9,463.4 1324.0,463.6 1324.2,454.1 1324.3,467.0 1324.5,452.3 1324.6,464.5 1324.7,457.3 1324.9,464.7 1325.0,467.4 1325.2,450.5 1325.3,464.7 1325.4,462.8 1325.6,458.5 1325.7,463.3 1325.9,458.2 1326.0,461.7 1326.1,455.0 1326.3,465.4 1326.4,464.3 1326.6,465.1 1326.7,457.1 1326.8,479.7 1327.0,472.1 1327.1,460.2 1327.3,458.3 1327.4,458.3 1327.5,464.5 1327.7,466.5 1327.8,456.3 1328.0,448.9 1328.1,463.1 1328.2,460.2 1328.4,461.4 1328.5,463.3 1328.7,453.9 1328.8,460.6 1328.9,458.5 1329.1,462.3 1329.2,472.6 1329.4,460.1 1329.5,455.1 1329.6,467.1 1329.8,464.0 1329.9,458.7 1330.1,449.5 1330.2,454.7 1330.3,460.5 1330.5,462.8 1330.6,456.6 1330.8,462.1 1330.9,455.9 1331.0,457.1 1331.2,462.5 1331.3,457.8 1331.5,460.2 1331.6,464.3 1331.7,465.8 1331.9,455.8 1332.0,457.7 1332.2,451.5 1332.3,445.3 1332.4,460.7 1332.6,456.0 1332.7,448.3 1332.9,461.9 1333.0,454.0 1333.1,457.0 1333.3,461.1 1333.4,460.9 1333.6,458.3 1333.7,447.1 1333.8,461.7 1334.0,455.0 1334.1,450.2 1334.3,435.2 1334.4,465.9 1334.5,459.0 1334.7,458.8 1334.8,464.1 1335.0,457.5 1335.1,449.4 1335.2,461.8 1335.4,463.5 1335.5,460.7 1335.7,466.5 1335.8,468.5 1335.9,452.8 1336.1,454.8 1336.2,462.4 1336.4,458.2 1336.5,458.3 1336.6,462.4 1336.8,461.2 1336.9,454.2 1337.1,457.4 1337.2,452.4 1337.3,455.3 1337.5,449.8 1337.6,444.7 1337.8,453.0 1337.9,452.3 1338.0,460.7 1338.2,464.5 1338.3,455.2 1338.5,457.6 1338.6,450.8 1338.7,444.3 1338.9,452.3 1339.0,452.0 1339.2,455.0 1339.3,453.6 1339.4,462.4 1339.6,450.9 1339.7,442.0 1339.9,452.1 1340.0,447.0 1340.1,451.7 1340.3,456.8 1340.4,445.7 1340.6,448.6 1340.7,451.6 1340.8,442.3 1341.0,448.7 1341.1,450.2 1341.3,451.2 1341.4,452.4 1341.5,448.4 1341.7,446.8 1341.8,435.1 1342.0,426.5 1342.1,436.3 1342.2,450.3 1342.4,441.2 1342.5,425.2 1342.7,435.5 1342.8,439.1 1342.9,423.4 1343.1,437.3 1343.2,424.4 1343.4,442.2 1343.5,428.2 1343.6,446.5 1343.8,414.6 1343.9,423.1 1344.1,408.6 1344.2,424.0 1344.3,414.1 1344.5,416.9 1344.6,407.7 1344.8,393.9 1344.9,392.3 1345.0,381.7 1345.2,376.7 1345.3,378.9 1345.5,375.7 1345.6,368.2 1345.7,360.4 1345.9,349.5 1346.0,347.6 1346.2,335.1 1346.3,333.0 1346.4,329.1 1346.6,318.0 1346.7,310.3 1346.9,304.2 1347.0,302.6 1347.1,292.2 1347.3,280.2 1347.4,277.3 1347.6,267.7 1347.7,273.0 1347.8,262.6 1348.0,254.5 1348.1,262.6 1348.3,266.9 1348.4,269.2 1348.5,270.8 1348.7,278.5 1348.8,285.1 1349.0,294.4 1349.1,297.6 1349.2,311.3 1349.4,306.4 1349.5,320.1 1349.7,320.2 1349.8,319.6 1349.9,328.7 1350.1,332.8 1350.2,340.0 1350.4,359.1 1350.5,357.1 1350.6,368.6 1350.8,365.3 1350.9,378.1 1351.1,376.3 1351.2,401.8 1351.3,393.7 1351.5,397.3 1351.6,403.0 1351.8,436.7 1351.9,415.4 1352.0,421.2 1352.2,409.9 1352.3,416.9 1352.5,426.0 1352.6,414.3 1352.7,437.8 1352.9,433.2 1353.0,433.5 1353.2,434.4 1353.3,434.9 1353.4,436.2 1353.6,449.7 1353.7,446.7 1353.9,451.5 1354.0,443.1 1354.1,440.7 1354.3,455.3 1354.4,440.7 1354.6,445.4 1354.7,454.2 1354.8,457.3 1355.0,437.7 1355.1,450.9 1355.3,453.4 1355.4,453.2 1355.5,449.7 1355.7,459.3 1355.8,453.0 1356.0,455.2 1356.1,444.2 1356.2,457.1 1356.4,447.1 1356.5,462.7 1356.7,461.9 1356.8,456.6 1356.9,460.7 1357.1,460.8 1357.2,459.7 1357.4,462.9 1357.5,460.4 1357.6,458.8 1357.8,457.3 1357.9,471.4 1358.1,463.4 1358.2,462.5 1358.3,470.2 1358.5,461.1 1358.6,461.4 1358.8,467.4 1358.9,469.7 1359.0,468.0 1359.2,456.3 1359.3,465.0 1359.5,464.8 1359.6,467.6 1359.7,460.4 1359.9,459.7 1360.0,465.0 1360.2,460.9 1360.3,460.1 1360.4,465.7 1360.6,471.2 1360.7,467.0 1360.9,472.4 1361.0,461.0 1361.1,470.3 1361.3,466.4 1361.4,461.7 1361.6,464.2 1361.7,461.8 1361.8,465.2 1362.0,462.3 1362.1,473.2 1362.3,464.4 1362.4,458.6 1362.5,465.2 1362.7,468.3 1362.8,464.4 1363.0,470.8 1363.1,461.1 1363.2,461.3 1363.4,474.7 1363.5,465.8 1363.7,468.7 1363.8,468.3 1363.9,471.2 1364.1,465.7 1364.2,464.3 1364.4,471.2 1364.5,462.5 1364.6,466.1 1364.8,468.7 1364.9,462.6 1365.1,456.3 1365.2,467.1 1365.3,475.1 1365.5,465.7 1365.6,455.0 1365.8,467.6 1365.9,474.7 1366.0,455.3 1366.2,448.8 1366.3,462.2 1366.5,463.8 1366.6,467.6 1366.7,467.7 1366.9,463.5 1367.0,465.9 1367.2,466.1 1367.3,463.3 1367.4,462.2 1367.6,461.5 1367.7,466.1 1367.9,464.3 1368.0,459.5 1368.1,467.8 1368.3,457.6 1368.4,460.2 1368.6,462.1 1368.7,450.7 1368.8,459.0 1369.0,465.7 1369.1,465.3 1369.3,454.0 1369.4,455.9 1369.5,454.4 1369.7,459.0 1369.8,459.8 1370.0,451.2 1370.1,461.7 1370.2,460.2 1370.4,459.3 1370.5,455.8 1370.7,458.4 1370.8,449.4 1370.9,460.5 1371.1,460.2 1371.2,458.3 1371.4,452.2 1371.5,465.8 1371.6,464.8 1371.8,447.9 1371.9,460.6 1372.1,459.0 1372.2,443.5 1372.3,463.1 1372.5,461.4 1372.6,461.6 1372.8,458.3 1372.9,453.6 1373.0,454.3 1373.2,459.9 1373.3,463.5 1373.5,454.0 1373.6,455.0 1373.7,460.4 1373.9,444.1 1374.0,458.7 1374.2,454.7 1374.3,443.4 1374.4,460.1 1374.6,450.4 1374.7,459.9 1374.9,463.1 1375.0,448.1 1375.1,448.2 1375.3,454.8 1375.4,444.7 1375.6,458.7 1375.7,455.5 1375.8,459.9 1376.0,443.7 1376.1,455.2 1376.3,456.5 1376.4,443.4 1376.5,458.7 1376.7,445.5 1376.8,454.3 1377.0,445.6 1377.1,457.6 1377.2,462.7 1377.4,453.1 1377.5,452.8 1377.7,460.0 1377.8,449.8 1377.9,452.5 1378.1,456.8 1378.2,454.4 1378.4,460.9 1378.5,458.6 1378.6,471.9 1378.8,451.3 1378.9,457.8 1379.1,446.4 1379.2,456.3 1379.3,461.1 1379.5,464.4 1379.6,443.2 1379.8,449.3 1379.9,454.3 1380.0,444.8 1380.2,453.0 1380.3,452.8 1380.5,446.6 1380.6,446.1 1380.7,443.6 1380.9,450.6 1381.0,456.1 1381.2,450.2 1381.3,464.7 1381.4,439.3 1381.6,444.4 1381.7,451.7 1381.9,440.7 1382.0,449.4 1382.1,456.4 1382.3,448.0 1382.4,445.5 1382.6,452.3 1382.7,449.0 1382.8,450.7 1383.0,449.4 1383.1,442.0 1383.3,439.3 1383.4,443.5 1383.5,446.7 1383.7,444.3 1383.8,451.1 1384.0,446.8 1384.1,451.0 1384.2,445.7 1384.4,440.6 1384.5,449.9 1384.7,447.8 1384.8,439.6 1384.9,442.2 1385.1,461.5 1385.2,424.1 1385.4,451.4 1385.5,444.8 1385.6,444.0 1385.8,442.7 1385.9,441.4 1386.1,459.0 1386.2,442.0 1386.3,443.0 1386.5,449.9 1386.6,447.6 1386.8,444.4 1386.9,444.0 1387.0,438.0 1387.2,452.8 1387.3,435.4 1387.5,432.4 1387.6,458.9 1387.7,452.2 1387.9,450.2 1388.0,445.4 1388.2,456.1 1388.3,443.0 1388.4,436.8 1388.6,451.3 1388.7,455.5 1388.9,454.9 1389.0,463.9 1389.1,457.1 1389.3,451.3 1389.4,451.2 1389.6,463.1 1389.7,453.7 1389.8,453.8 1390.0,444.8 1390.1,453.7 1390.3,448.4 1390.4,458.9 1390.5,457.6 1390.7,461.3 1390.8,467.9 1391.0,457.0 1391.1,466.6 1391.2,452.3 1391.4,460.1 1391.5,465.0 1391.7,471.1 1391.8,454.2 1391.9,459.4 1392.1,462.1 1392.2,461.1 1392.4,456.8 1392.5,453.4 1392.6,456.2 1392.8,463.0 1392.9,456.5 1393.1,474.2 1393.2,471.6 1393.3,454.7 1393.5,463.0 1393.6,473.4 1393.8,474.5 1393.9,473.1 1394.0,459.6 1394.2,465.8 1394.3,475.1 1394.5,469.1 1394.6,466.5 1394.7,472.0 1394.9,475.0 1395.0,470.8 1395.2,471.7 1395.3,476.4 1395.4,468.0 1395.6,466.4 1395.7,475.7 1395.9,465.5 1396.0,474.7 1396.1,468.5 1396.3,477.0 1396.4,466.5 1396.6,479.0 1396.7,474.8 1396.8,471.9 1397.0,469.2 1397.1,473.2 1397.3,469.4 1397.4,468.2 1397.5,480.3 1397.7,478.0 1397.8,481.5 1398.0,468.3 1398.1,465.4 1398.2,467.5 1398.4,479.3 1398.5,480.3 1398.7,466.7 1398.8,481.8 1398.9,474.4 1399.1,470.7 1399.2,476.6 1399.4,480.0 1399.5,476.2 1399.6,476.5 1399.8,473.2 1399.9,470.3 1400.1,475.8 1400.2,469.5 1400.3,480.9 1400.5,473.5 1400.6,484.6 1400.8,469.9 1400.9,485.2 1401.0,473.5 1401.2,473.4 1401.3,479.4 1401.5,486.2 1401.6,477.6 1401.7,475.8 1401.9,487.8 1402.0,480.0 1402.2,471.1 1402.3,475.7 1402.4,485.6 1402.6,478.4 1402.7,480.8 1402.9,486.8 1403.0,473.0 1403.1,477.7 1403.3,472.1 1403.4,475.2 1403.6,477.8 1403.7,467.7 1403.8,475.2 1404.0,474.9 1404.1,479.4 1404.3,470.4 1404.4,466.5 1404.5,475.0 1404.7,466.7 1404.8,473.3 1405.0,475.1 1405.1,467.1 1405.2,470.8 1405.4,465.6 1405.5,455.7 1405.7,456.5 1405.8,459.1 1405.9,470.1 1406.1,464.0 1406.2,468.7 1406.4,469.0 1406.5,474.7 1406.6,466.8 1406.8,466.2 1406.9,470.9 1407.1,476.6 1407.2,467.1 1407.3,469.1 1407.5,465.9 1407.6,462.8 1407.8,457.8 1407.9,465.6 1408.0,464.2 1408.2,464.1 1408.3,476.2 1408.5,463.0 1408.6,466.5 1408.7,462.4 1408.9,470.7 1409.0,462.3 1409.2,474.1 1409.3,462.0 1409.4,467.5 1409.6,468.7 1409.7,461.3 1409.9,467.2 1410.0,462.5 1410.1,457.6 1410.3,457.8 1410.4,463.3 1410.6,471.3 1410.7,458.1 1410.8,463.8 1411.0,455.8 1411.1,461.7 1411.3,452.5 1411.4,455.3 1411.5,459.5 1411.7,455.1 1411.8,457.7 1412.0,464.8 1412.1,458.2 1412.2,454.7 1412.4,451.6 1412.5,455.5 1412.7,465.2 1412.8,458.0 1412.9,457.6 1413.1,462.6 1413.2,463.3 1413.4,468.9 1413.5,456.5 1413.6,453.4 1413.8,449.2 1413.9,455.0 1414.1,457.0 1414.2,463.4 1414.3,461.3 1414.5,456.4 1414.6,464.9 1414.8,452.9 1414.9,454.3 1415.0,453.9 1415.2,454.6 1415.3,459.7 1415.5,456.6 1415.6,457.4 1415.7,469.6 1415.9,454.1 1416.0,452.2 1416.2,461.7 1416.3,465.8 1416.4,466.4 1416.6,462.6 1416.7,462.4 1416.9,463.3 1417.0,469.2 1417.1,460.4 1417.3,452.9 1417.4,467.2 1417.6,460.1 1417.7,466.6 1417.8,474.9 1418.0,468.2 1418.1,478.0 1418.3,459.7 1418.4,470.0 1418.5,471.1 1418.7,473.8 1418.8,465.7 1419.0,471.5 1419.1,470.9 1419.2,471.1 1419.4,463.5 1419.5,461.9 1419.7,474.3 1419.8,473.5 1419.9,472.1 1420.1,475.5 1420.2,478.0 1420.4,466.4 1420.5,476.9 1420.6,480.8 1420.8,478.6 1420.9,476.5 1421.1,477.3 1421.2,466.2 1421.3,471.4 1421.5,479.6 1421.6,482.2 1421.8,477.0 1421.9,472.4 1422.0,474.3 1422.2,479.6 1422.3,485.9 1422.5,479.7 1422.6,473.1 1422.7,479.2 1422.9,478.4 1423.0,488.7 1423.2,479.6 1423.3,476.9 1423.4,476.5 1423.6,470.7 1423.7,471.8 1423.9,474.9 1424.0,473.4 1424.1,478.7 1424.3,478.4 1424.4,482.8 1424.6,485.9 1424.7,479.1 1424.8,477.5 1425.0,469.2 1425.1,480.8 1425.3,482.3 1425.4,475.2 1425.5,477.3 1425.7,475.9 1425.8,485.0 1426.0,482.9 1426.1,486.1 1426.2,474.0 1426.4,493.6 1426.5,476.1 1426.7,475.4 1426.8,481.6 1426.9,478.0 1427.1,490.1 1427.2,479.0 1427.4,477.8 1427.5,486.2 1427.6,487.6 1427.8,477.5 1427.9,479.4 1428.1,480.1 1428.2,481.2 1428.3,490.7 1428.5,488.6 1428.6,487.7 1428.8,488.9 1428.9,482.8 1429.0,487.1 1429.2,482.6 1429.3,479.3 1429.5,491.4 1429.6,474.6 1429.7,483.4 1429.9,480.7 1430.0,475.4 1430.2,481.8 1430.3,484.2 1430.4,486.2 1430.6,480.0 1430.7,487.8 1430.9,485.7 1431.0,488.3 1431.1,475.1 1431.3,482.4 1431.4,481.7 1431.6,487.6 1431.7,481.3 1431.8,482.5 1432.0,479.5 1432.1,479.4 1432.3,480.8 1432.4,490.1 1432.5,480.3 1432.7,473.8 1432.8,487.1 1433.0,483.6 1433.1,488.6 1433.2,488.6 1433.4,484.6 1433.5,484.2 1433.7,483.6 1433.8,486.3 1433.9,482.7 1434.1,487.5 1434.2,493.3 1434.4,483.6 1434.5,483.9 1434.6,483.9 1434.8,490.0 1434.9,490.3 1435.1,494.1 1435.2,490.8 1435.3,488.1 1435.5,489.7 1435.6,481.5 1435.8,490.4 1435.9,488.7 1436.0,497.8 1436.2,494.6 1436.3,484.2 1436.5,485.5 1436.6,492.5 1436.7,478.6 1436.9,484.1 1437.0,490.3 1437.2,491.7 1437.3,489.6 1437.4,494.3 1437.6,487.6 1437.7,489.4 1437.9,488.1 1438.0,484.0 1438.1,489.4 1438.3,486.7 1438.4,489.7 1438.6,477.1 1438.7,490.0 1438.8,487.0 1439.0,486.7 1439.1,489.9 1439.3,487.5 1439.4,494.1 1439.5,495.7 1439.7,494.0 1439.8,494.4 1440.0,491.7 1440.1,490.2 1440.2,484.1 1440.4,488.4 1440.5,495.8 1440.7,493.8 1440.8,488.0 1440.9,490.9 1441.1,495.3 1441.2,489.7 1441.4,498.0 1441.5,487.0 1441.6,494.3 1441.8,493.9 1441.9,491.5 1442.1,492.2 1442.2,493.3 1442.3,480.4 1442.5,493.1 1442.6,496.3 1442.8,492.9 1442.9,496.3 1443.0,485.7 1443.2,490.9 1443.3,492.8 1443.5,490.1 1443.6,496.8 1443.7,493.6 1443.9,489.1 1444.0,495.2 1444.2,495.3 1444.3,489.5 1444.4,494.5 1444.6,493.4 1444.7,493.3 1444.9,486.0 1445.0,497.6 1445.1,494.8 1445.3,491.7 1445.4,493.5 1445.6,493.5 1445.7,490.6 1445.8,487.2 1446.0,492.5 1446.1,489.4 1446.3,489.9 1446.4,486.8 1446.5,490.9 1446.7,496.9 1446.8,493.3 1447.0,492.5 1447.1,490.9 1447.2,490.4 1447.4,485.6 1447.5,500.0 1447.7,489.2 1447.8,485.6 1447.9,494.4 1448.1,493.7 1448.2,490.2 1448.4,485.9 1448.5,486.3 1448.6,499.8 1448.8,492.2 1448.9,489.7 1449.1,501.2 1449.2,490.3 1449.3,488.6 1449.5,495.3 1449.6,494.5 1449.8,500.0 1449.9,485.8 1450.0,494.2 1450.2,485.2 1450.3,495.0 1450.5,489.9 1450.6,490.8 1450.7,489.6 1450.9,496.8 1451.0,500.4 1451.2,492.6 1451.3,491.8 1451.4,490.7 1451.6,495.4 1451.7,488.3 1451.9,509.2 1452.0,491.9 1452.1,500.8 1452.3,493.7 1452.4,486.7 1452.6,485.8 1452.7,491.0 1452.8,489.7 1453.0,491.8 1453.1,487.7 1453.3,503.6 1453.4,502.6 1453.5,484.6 1453.7,495.1 1453.8,498.3 1454.0,491.3 1454.1,491.8 1454.2,497.8 1454.4,495.3 1454.5,487.2 1454.7,498.4 1454.8,490.5 1454.9,501.2 1455.1,488.3 1455.2,482.1 1455.4,493.1 1455.5,498.2 1455.6,494.9 1455.8,493.3 1455.9,488.3 1456.1,496.7 1456.2,483.9 1456.3,496.1 1456.5,486.8 1456.6,489.6 1456.8,486.2 1456.9,488.0 1457.0,499.1 1457.2,486.7 1457.3,493.0 1457.5,488.4 1457.6,496.8 1457.7,485.7 1457.9,492.0 1458.0,496.1 1458.2,502.4 1458.3,486.4 1458.4,487.8 1458.6,491.5 1458.7,498.6 1458.9,487.0 1459.0,495.5 1459.1,488.7 1459.3,482.7 1459.4,484.1 1459.6,492.1 1459.7,496.0 1459.8,490.9 1460.0,481.5 1460.1,488.7 1460.3,495.8 1460.4,495.3 1460.5,492.5 1460.7,498.1 1460.8,485.2 1461.0,485.3 1461.1,502.2 1461.2,494.2 1461.4,490.0 1461.5,488.7 1461.7,478.8 1461.8,494.8 1461.9,473.1 1462.1,481.6 1462.2,490.5 1462.4,497.8 1462.5,488.8 1462.6,492.4 1462.8,488.6 1462.9,492.5 1463.1,482.7 1463.2,500.5 1463.3,485.9 1463.5,493.1 1463.6,480.8 1463.8,498.8 1463.9,492.4 1464.0,499.8 1464.2,487.2 1464.3,495.2 1464.5,489.4 1464.6,490.0 1464.7,496.4 1464.9,485.9 1465.0,493.7 1465.2,499.4 1465.3,498.5 1465.4,495.2 1465.6,491.7 1465.7,485.5 1465.9,496.9 1466.0,486.8 1466.1,495.7 1466.3,488.4 1466.4,490.0 1466.6,489.7 1466.7,492.8 1466.8,487.8 1467.0,491.2 1467.1,487.3 1467.3,492.3 1467.4,491.1 1467.5,491.8 1467.7,485.7 1467.8,491.2 1468.0,489.8 1468.1,492.4 1468.2,489.8 1468.4,484.9 1468.5,492.9 1468.7,486.2 1468.8,490.8 1468.9,479.5 1469.1,491.7 1469.2,492.4 1469.4,484.9 1469.5,492.0 1469.6,487.4 1469.8,500.8 1469.9,492.3 1470.1,483.1 1470.2,488.1 1470.3,480.5 1470.5,487.4 1470.6,491.5 1470.8,492.9 1470.9,488.4 1471.0,487.7 1471.2,489.6 1471.3,485.9 1471.5,490.3 1471.6,494.1 1471.7,490.2 1471.9,492.8 1472.0,484.9 1472.2,486.3 1472.3,490.2 1472.4,498.3 1472.6,493.4 1472.7,496.7 1472.9,488.8 1473.0,494.5 1473.1,480.4 1473.3,492.9 1473.4,478.4 1473.6,494.3 1473.7,490.7 1473.8,494.0 1474.0,490.3 1474.1,486.0 1474.3,484.8 1474.4,489.2 1474.5,495.5 1474.7,491.3 1474.8,485.7 1475.0,485.5 1475.1,484.8 1475.2,487.2 1475.4,487.8 1475.5,485.9 1475.7,488.2 1475.8,480.6 1475.9,495.6 1476.1,489.3 1476.2,495.4 1476.4,489.5 1476.5,487.1 1476.6,488.5 1476.8,489.1 1476.9,484.9 1477.1,486.2 1477.2,497.2 1477.3,492.6 1477.5,485.5 1477.6,490.5 1477.8,484.0 1477.9,494.8 1478.0,483.2 1478.2,492.3 1478.3,488.1 1478.5,488.2 1478.6,484.1 1478.7,485.8 1478.9,484.3 1479.0,483.8 1479.2,490.2 1479.3,500.0 1479.4,486.3 1479.6,492.7 1479.7,487.8 1479.9,484.5 1480.0,494.3 1480.1,490.9 1480.3,493.3 1480.4,488.4 1480.6,488.5 1480.7,483.9 1480.8,486.5 1481.0,495.9 1481.1,476.8 1481.3,489.7 1481.4,494.9 1481.5,491.6 1481.7,492.0 1481.8,486.5 1482.0,493.2 1482.1,493.3 1482.2,487.6 1482.4,495.8 1482.5,485.4 1482.7,475.8 1482.8,487.7 1482.9,487.2 1483.1,483.6 1483.2,485.5 1483.4,485.1 1483.5,472.0 1483.6,493.6 1483.8,487.7 1483.9,500.5 1484.1,487.6 1484.2,491.2 1484.3,480.4 1484.5,492.5 1484.6,482.4 1484.8,490.2 1484.9,492.0 1485.0,491.2 1485.2,483.6 1485.3,483.7 1485.5,491.2 1485.6,493.2 1485.7,494.5 1485.9,487.4 1486.0,487.0 1486.2,496.1 1486.3,484.6 1486.4,491.1 1486.6,486.0 1486.7,480.6 1486.9,482.1 1487.0,489.6 1487.1,488.5 1487.3,489.8 1487.4,485.7 1487.6,485.0 1487.7,488.7 1487.8,486.5 1488.0,479.6 1488.1,485.3 1488.3,495.5 1488.4,483.7 1488.5,490.0 1488.7,486.9 1488.8,490.8 1489.0,483.1 1489.1,481.1 1489.2,489.4 1489.4,483.9 1489.5,487.1 1489.7,485.7 1489.8,491.9 1489.9,488.4 1490.1,487.9 1490.2,482.5 1490.4,479.7 1490.5,483.2 1490.6,491.2 1490.8,490.5 1490.9,490.0 1491.1,485.2 1491.2,482.2 1491.3,492.7 1491.5,488.0 1491.6,489.7 1491.8,482.6 1491.9,483.8 1492.0,490.2 1492.2,490.6 1492.3,482.3 1492.5,488.5 1492.6,481.5 1492.7,492.9 1492.9,490.3 1493.0,498.0 1493.2,500.1 1493.3,483.9 1493.4,488.0 1493.6,484.8 1493.7,487.7 1493.9,490.8 1494.0,487.0 1494.1,487.3 1494.3,480.6 1494.4,489.8 1494.6,487.0 1494.7,490.0 1494.8,492.0 1495.0,487.2 1495.1,490.4 1495.3,481.8 1495.4,491.5 1495.5,486.9 1495.7,484.2 1495.8,485.9 1496.0,480.2 1496.1,483.9 1496.2,485.0 1496.4,487.1 1496.5,486.6 1496.7,483.9 1496.8,486.1 1496.9,476.8 1497.1,487.4 1497.2,489.6 1497.4,490.7 1497.5,496.2 1497.6,486.0 1497.8,486.6 1497.9,484.7 1498.1,484.7 1498.2,487.6 1498.3,493.4 1498.5,478.9 1498.6,484.6 1498.8,488.3 1498.9,482.3 1499.0,489.0 1499.2,480.5 1499.3,485.4 1499.5,479.2 1499.6,488.4 1499.7,483.3 1499.9,490.2 1500.0,485.7 1500.2,482.5 1500.3,485.1 1500.4,487.7 1500.6,487.1 1500.7,485.9 1500.9,485.5 1501.0,487.3 1501.1,491.2 1501.3,484.5 1501.4,489.4 1501.6,481.0 1501.7,491.7 1501.8,489.1 1502.0,485.7 1502.1,485.9 1502.3,479.4 1502.4,487.9 1502.5,486.4 1502.7,481.0 1502.8,485.5 1503.0,490.3 1503.1,488.5 1503.2,489.0 1503.4,485.1 1503.5,491.8 1503.7,487.7 1503.8,491.8 1503.9,498.3 1504.1,478.5 1504.2,485.6 1504.4,488.0 1504.5,484.6 1504.6,492.9 1504.8,486.5 1504.9,496.0 1505.1,491.7 1505.2,490.2 1505.3,488.2 1505.5,492.3 1505.6,490.7 1505.8,495.3 1505.9,490.4 1506.0,493.3 1506.2,490.5 1506.3,490.2 1506.5,481.3 1506.6,488.7 1506.7,490.5 1506.9,483.3 1507.0,482.3 1507.2,487.4 1507.3,490.2 1507.4,480.9 1507.6,490.4 1507.7,493.4 1507.9,487.8 1508.0,490.1 1508.1,491.2 1508.3,486.0 1508.4,492.0 1508.6,491.2 1508.7,483.4 1508.8,491.6 1509.0,493.3 1509.1,484.2 1509.3,493.3 1509.4,488.0 1509.5,483.1 1509.7,484.5 1509.8,485.2 1510.0,491.9 1510.1,487.1 1510.2,487.6 1510.4,483.5 1510.5,489.5 1510.7,483.7 1510.8,486.4 1510.9,492.3 1511.1,492.6 1511.2,487.1 1511.4,489.3 1511.5,494.0 1511.6,489.5 1511.8,495.2 1511.9,495.8 1512.1,489.2 1512.2,483.9 1512.3,488.9 1512.5,495.9 1512.6,494.9 1512.8,495.2 1512.9,494.9 1513.0,487.3 1513.2,491.0 1513.3,494.8 1513.5,491.0 1513.6,493.8 1513.7,485.1 1513.9,484.1 1514.0,499.2 1514.2,493.4 1514.3,492.7 1514.4,496.7 1514.6,500.2 1514.7,503.3 1514.9,478.7 1515.0,491.7 1515.1,494.7 1515.3,481.0 1515.4,481.6 1515.6,489.1 1515.7,498.8 1515.8,494.4 1516.0,500.0 1516.1,491.3 1516.3,495.0 1516.4,497.1 1516.5,492.2 1516.7,489.9 1516.8,490.6 1517.0,472.8 1517.1,491.5 1517.2,481.3 1517.4,486.2 1517.5,493.3 1517.7,491.9 1517.8,480.7 1517.9,492.5 1518.1,493.6 1518.2,491.0 1518.4,493.3 1518.5,492.7 1518.6,482.1 1518.8,489.1 1518.9,488.7 1519.1,484.4 1519.2,489.8 1519.3,486.3 1519.5,489.7 1519.6,486.0 1519.8,495.0 1519.9,500.5 1520.0,485.2 1520.2,490.3 1520.3,490.4 1520.5,492.2 1520.6,489.3 1520.7,479.7 1520.9,491.8 1521.0,489.5 1521.2,485.1 1521.3,489.2 1521.4,487.8 1521.6,491.3 1521.7,487.4 1521.9,488.9 1522.0,490.7 1522.1,491.3 1522.3,490.3 1522.4,495.7 1522.6,491.3 1522.7,486.6 1522.8,498.3 1523.0,490.8 1523.1,497.6 1523.3,485.3 1523.4,492.9 1523.5,498.3 1523.7,496.2 1523.8,490.7 1524.0,487.6 1524.1,487.5 1524.2,489.5 1524.4,485.8 1524.5,486.9 1524.7,485.7 1524.8,485.7 1524.9,491.5 1525.1,482.2 1525.2,491.2 1525.4,493.7 1525.5,486.1 1525.6,486.2 1525.8,490.6 1525.9,490.3 1526.1,495.0 1526.2,481.3 1526.3,490.3 1526.5,497.1 1526.6,491.0 1526.8,498.9 1526.9,500.8 1527.0,488.1 1527.2,497.7 1527.3,493.1 1527.5,490.7 1527.6,489.5 1527.7,489.8 1527.9,486.6 1528.0,490.1 1528.2,495.2 1528.3,501.4 1528.4,489.1 1528.6,493.4 1528.7,493.2 1528.9,480.0 1529.0,494.3 1529.1,485.3 1529.3,485.7 1529.4,495.0 1529.6,498.9 1529.7,486.0 1529.8,487.0 1530.0,486.8 1530.1,488.7 1530.3,489.4 1530.4,487.4 1530.5,483.7 1530.7,499.5 1530.8,489.0 1531.0,487.8 1531.1,495.5 1531.2,489.7 1531.4,496.4 1531.5,495.0 1531.7,496.0 1531.8,489.6 1531.9,494.4 1532.1,484.3 1532.2,485.2 1532.4,491.9 1532.5,490.2 1532.6,497.8 1532.8,490.4 1532.9,483.5 1533.1,492.0 1533.2,490.4 1533.3,492.6 1533.5,486.4 1533.6,488.2 1533.8,492.1 1533.9,495.3 1534.0,495.3 1534.2,495.4 1534.3,485.3 1534.5,491.0 1534.6,493.0 1534.7,496.5 1534.9,493.3 1535.0,491.0 1535.2,491.6 1535.3,491.8 1535.4,485.6 1535.6,492.4 1535.7,496.0 1535.9,495.6 1536.0,483.8 1536.1,492.3 1536.3,485.5 1536.4,497.4 1536.6,494.9 1536.7,495.7 1536.8,489.4 1537.0,483.6 1537.1,487.7 1537.3,490.9 1537.4,485.7 1537.5,488.0 1537.7,500.7 1537.8,486.6 1538.0,495.2 1538.1,484.2 1538.2,493.9 1538.4,496.6 1538.5,494.8 1538.7,498.3 1538.8,501.0 1538.9,486.5 1539.1,494.1 1539.2,495.3 1539.4,494.9 1539.5,500.2 1539.6,494.3 1539.8,498.5 1539.9,498.3 1540.1,493.8 1540.2,495.6 1540.3,489.7 1540.5,494.6 1540.6,494.1 1540.8,492.6 1540.9,491.2 1541.0,497.7 1541.2,492.8 1541.3,503.7 1541.5,499.3 1541.6,496.9 1541.7,490.8 1541.9,497.6 1542.0,494.1 1542.2,493.9 1542.3,488.6 1542.4,496.2 1542.6,494.8 1542.7,491.5 1542.9,490.6 1543.0,492.5 1543.1,487.7 1543.3,491.3 1543.4,500.1 1543.6,490.9 1543.7,504.3 1543.8,487.8 1544.0,498.8 1544.1,498.8 1544.3,499.2 1544.4,496.6 1544.5,486.7 1544.7,499.2 1544.8,498.9 1545.0,494.2 1545.1,483.4 1545.2,499.0 1545.4,489.9 1545.5,492.9 1545.7,499.8 1545.8,500.2 1545.9,495.9 1546.1,491.7 1546.2,501.9 1546.4,499.5 1546.5,493.6 1546.6,486.6 1546.8,495.6 1546.9,488.2 1547.1,502.3 1547.2,496.6 1547.3,492.7 1547.5,496.2 1547.6,486.8 1547.8,494.1 1547.9,491.5 1548.0,487.2 1548.2,491.5 1548.3,496.0 1548.5,487.9 1548.6,493.5 1548.7,487.8 1548.9,495.3 1549.0,486.5 1549.2,497.7 1549.3,497.5 1549.4,498.2 1549.6,502.6 1549.7,495.3 1549.9,495.0 1550.0,497.2 1550.1,492.4 1550.3,485.9 1550.4,489.0 1550.6,489.0 1550.7,495.4 1550.8,491.6 1551.0,492.7 1551.1,497.1 1551.3,495.4 1551.4,503.6 1551.5,494.3 1551.7,490.3 1551.8,504.9 1552.0,492.7 1552.1,494.2 1552.2,499.0 1552.4,495.3 1552.5,497.7 1552.7,491.7 1552.8,493.2 1552.9,497.4 1553.1,492.0 1553.2,492.7 1553.4,494.2 1553.5,501.6 1553.6,501.1 1553.8,495.4 1553.9,494.6 1554.1,491.1 1554.2,500.2 1554.3,496.1 1554.5,498.4 1554.6,487.7 1554.8,497.7 1554.9,494.7 1555.0,497.4 1555.2,498.6 1555.3,493.9 1555.5,492.1 1555.6,496.8 1555.7,488.1 1555.9,500.1 1556.0,495.0 1556.2,488.3 1556.3,499.2 1556.4,497.6 1556.6,500.2 1556.7,497.7 1556.9,495.2 1557.0,492.7 1557.1,487.9 1557.3,496.2 1557.4,495.3 1557.6,490.6 1557.7,495.2 1557.8,488.2 1558.0,497.1 1558.1,492.8 1558.3,494.5 1558.4,488.5 1558.5,496.2 1558.7,492.4 1558.8,488.9 1559.0,493.2 1559.1,490.3 1559.2,496.0 1559.4,484.0 1559.5,485.6 1559.7,500.3 1559.8,488.4 1559.9,492.9 1560.1,488.6 1560.2,491.4 1560.4,502.5 1560.5,480.8 1560.6,492.6 1560.8,490.1 1560.9,489.9 1561.1,485.9 1561.2,485.1 1561.3,495.9 1561.5,491.7 1561.6,483.5 1561.8,489.1 1561.9,482.7 1562.0,502.5 1562.2,490.6 1562.3,480.1 1562.5,492.9 1562.6,491.4 1562.7,489.8 1562.9,489.0 1563.0,485.4 1563.2,487.0 1563.3,478.0 1563.4,493.8 1563.6,497.0 1563.7,489.7 1563.9,490.1 1564.0,480.4 1564.1,484.7 1564.3,479.8 1564.4,480.1 1564.6,488.9 1564.7,493.0 1564.8,485.6 1565.0,497.8 1565.1,489.6 1565.3,474.4 1565.4,483.3 1565.5,491.4 1565.7,485.7 1565.8,489.8 1566.0,476.3 1566.1,490.6 1566.2,478.4 1566.4,485.7 1566.5,494.3 1566.7,484.1 1566.8,482.4 1566.9,487.2 1567.1,479.1 1567.2,478.4 1567.4,487.8 1567.5,475.4 1567.6,476.5 1567.8,491.3 1567.9,476.2 1568.1,484.5 1568.2,487.7 1568.3,481.8 1568.5,476.6 1568.6,486.0 1568.8,477.1 1568.9,492.3 1569.0,492.7 1569.2,476.4 1569.3,484.4 1569.5,477.9 1569.6,483.3 1569.7,480.0 1569.9,476.3 1570.0,483.8 1570.2,472.9 1570.3,482.8 1570.4,480.4 1570.6,477.3 1570.7,485.8 1570.9,481.8 1571.0,479.5 1571.1,480.5 1571.3,480.2 1571.4,486.1 1571.6,480.0 1571.7,467.0 1571.8,466.0 1572.0,476.4 1572.1,475.4 1572.3,480.4 1572.4,475.1 1572.5,477.9 1572.7,488.6 1572.8,475.5 1573.0,486.5 1573.1,481.7 1573.2,488.9 1573.4,487.0 1573.5,483.0 1573.7,488.2 1573.8,484.0 1573.9,477.5 1574.1,485.6 1574.2,485.8 1574.4,482.9 1574.5,484.9 1574.6,481.6 1574.8,485.4 1574.9,482.6 1575.1,476.5 1575.2,482.9 1575.3,492.2 1575.5,488.5 1575.6,491.9 1575.8,484.7 1575.9,482.8 1576.0,479.7 1576.2,486.6 1576.3,490.1 1576.5,489.2 1576.6,492.1 1576.7,482.9 1576.9,486.1 1577.0,481.9 1577.2,489.8 1577.3,488.8 1577.4,483.0 1577.6,486.8 1577.7,475.4 1577.9,489.9 1578.0,482.6 1578.1,484.9 1578.3,489.8 1578.4,490.3 1578.6,483.9 1578.7,494.9 1578.8,497.1 1579.0,494.5 1579.1,494.0 1579.3,488.1 1579.4,494.6 1579.5,483.9 1579.7,483.0 1579.8,489.2 1580.0,489.8 1580.1,484.6 1580.2,497.3 1580.4,482.0 1580.5,479.3 1580.7,487.3 1580.8,497.1 1580.9,493.0 1581.1,491.2 1581.2,490.3 1581.4,492.4 1581.5,491.4 1581.6,490.5 1581.8,489.5 1581.9,482.6 1582.1,494.8 1582.2,488.3 1582.3,492.2 1582.5,492.8 1582.6,495.5 1582.8,487.0 1582.9,494.6 1583.0,494.8 1583.2,490.5 1583.3,490.8 1583.5,491.8 1583.6,486.4 1583.7,489.2 1583.9,486.1 1584.0,497.0 1584.2,487.9 1584.3,486.6 1584.4,492.4 1584.6,494.3 1584.7,490.1 1584.9,487.5 1585.0,493.9 1585.1,496.0 1585.3,484.6 1585.4,496.4 1585.6,484.1 1585.7,495.4 1585.8,490.4 1586.0,491.4 1586.1,495.9 1586.3,499.3 1586.4,502.3 1586.5,499.1 1586.7,496.0 1586.8,486.8 1587.0,491.2 1587.1,493.7 1587.2,488.3 1587.4,495.9 1587.5,491.4 1587.7,501.5 1587.8,492.6 1587.9,487.7 1588.1,491.2 1588.2,490.4 1588.4,496.9 1588.5,500.1 1588.6,498.4 1588.8,498.5 1588.9,490.8 1589.1,489.0 1589.2,490.4 1589.3,494.3 1589.5,492.6 1589.6,495.6 1589.8,499.0 1589.9,494.8 1590.0,502.2 1590.2,491.0 1590.3,497.5 1590.5,494.4 1590.6,499.2 1590.7,494.6 1590.9,492.4 1591.0,494.3 1591.2,490.9 1591.3,490.0 1591.4,498.6 1591.6,492.3 1591.7,500.5 1591.9,506.4 1592.0,492.3 1592.1,499.1 1592.3,494.9 1592.4,486.8 1592.6,494.9 1592.7,502.0 1592.8,490.0 1593.0,494.7 1593.1,494.7 1593.3,489.1 1593.4,497.0 1593.5,495.0 1593.7,498.3 1593.8,495.9 1594.0,489.4 1594.1,496.4 1594.2,498.6 1594.4,494.8 1594.5,498.4 1594.7,498.4 1594.8,486.4 1594.9,498.8 1595.1,487.1 1595.2,490.4 1595.4,495.5 1595.5,491.8 1595.6,492.6 1595.8,501.1 1595.9,491.5 1596.1,501.5 1596.2,504.4 1596.3,502.6 1596.5,491.5 1596.6,489.6 1596.8,496.7 1596.9,505.8 1597.0,495.5 1597.2,494.0 1597.3,496.0 1597.5,499.9 1597.6,501.9 1597.7,496.6 1597.9,496.1 1598.0,498.9 1598.2,496.8 1598.3,494.9 1598.4,488.9 1598.6,497.3 1598.7,494.1 1598.9,495.7 1599.0,495.5 1599.1,492.9 1599.3,499.3 1599.4,501.6 1599.6,499.2 1599.7,494.0 1599.8,497.6 1600.0,499.9 1600.1,496.4 1600.3,499.9 1600.4,490.6 1600.5,495.9 1600.7,503.2 1600.8,501.2 1601.0,496.3 1601.1,497.4 1601.2,506.4 1601.4,501.7 1601.5,493.8 1601.7,498.2 1601.8,494.8 1601.9,494.2 1602.1,491.5 1602.2,500.0 1602.4,506.6 1602.5,500.6 1602.6,491.1 1602.8,499.2 1602.9,490.4 1603.1,497.8 1603.2,501.4 1603.3,503.3 1603.5,497.3 1603.6,498.2 1603.8,496.8 1603.9,496.0 1604.0,503.6 1604.2,492.5 1604.3,484.0 1604.5,504.4 1604.6,506.7 1604.7,489.6 1604.9,500.8 1605.0,500.2 1605.2,494.7 1605.3,492.3 1605.4,497.2 1605.6,495.0 1605.7,500.1 1605.9,493.7 1606.0,501.7 1606.1,493.6 1606.3,503.6 1606.4,500.3 1606.6,501.4 1606.7,494.6 1606.8,495.3 1607.0,495.9 1607.1,501.5 1607.3,493.3 1607.4,492.7 1607.5,495.2 1607.7,497.8 1607.8,495.8 1608.0,495.8 1608.1,490.3 1608.2,493.3 1608.4,491.3 1608.5,500.7 1608.7,495.8 1608.8,499.0 1608.9,490.1 1609.1,495.7 1609.2,497.5 1609.4,491.2 1609.5,493.0 1609.6,493.5 1609.8,496.4 1609.9,497.0 1610.1,489.4 1610.2,497.2 1610.3,497.3 1610.5,498.0 1610.6,491.7 1610.8,495.3 1610.9,501.3 1611.0,500.7 1611.2,492.8 1611.3,502.6 1611.5,493.6 1611.6,491.4 1611.7,500.4 1611.9,496.9 1612.0,505.6 1612.2,494.3 1612.3,495.9 1612.4,498.6 1612.6,496.5 1612.7,493.5 1612.9,495.3 1613.0,495.1 1613.1,495.0 1613.3,495.1 1613.4,488.3 1613.6,499.2 1613.7,492.4 1613.8,494.0 1614.0,491.6 1614.1,494.2 1614.3,499.5 1614.4,500.7 1614.5,496.5 1614.7,495.8 1614.8,492.7 1615.0,493.7 1615.1,496.0 1615.2,494.3 1615.4,490.5 1615.5,495.2 1615.7,490.2 1615.8,504.2 1615.9,496.3 1616.1,492.3 1616.2,497.0 1616.4,491.5 1616.5,493.7 1616.6,501.8 1616.8,500.6 1616.9,489.5 1617.1,489.8 1617.2,492.5 1617.3,504.9 1617.5,495.0 1617.6,495.9 1617.8,492.4 1617.9,500.7 1618.0,499.0 1618.2,486.9 1618.3,490.8 1618.5,486.4 1618.6,485.2 1618.7,490.9 1618.9,488.6 1619.0,491.7 1619.2,497.7 1619.3,499.6 1619.4,495.0 1619.6,497.8 1619.7,488.4 1619.9,501.1 1620.0,504.8 1620.1,493.8 1620.3,497.0 1620.4,496.0 1620.6,484.6 1620.7,499.0 1620.8,496.5 1621.0,481.2 1621.1,492.5 1621.3,499.6 1621.4,496.9 1621.5,488.1 1621.7,491.7 1621.8,491.2 1622.0,495.0 1622.1,491.1 1622.2,494.5 1622.4,493.4 1622.5,487.5 1622.7,496.0 1622.8,495.4 1622.9,491.1 1623.1,497.5 1623.2,504.5 1623.4,487.0 1623.5,495.1 1623.6,497.9 1623.8,494.3 1623.9,491.5 1624.1,504.0 1624.2,491.8 1624.3,493.5 1624.5,491.1 1624.6,499.6 1624.8,484.4 1624.9,490.0 1625.0,492.0 1625.2,495.5 1625.3,495.6 1625.5,498.5 1625.6,493.0 1625.7,490.7 1625.9,493.7 1626.0,490.1 1626.2,491.6 1626.3,491.8 1626.4,495.4 1626.6,497.8 1626.7,489.0 1626.9,491.3 1627.0,493.9 1627.1,494.0 1627.3,492.8 1627.4,496.6 1627.6,493.0 1627.7,486.1 1627.8,499.9 1628.0,488.3 1628.1,501.4 1628.3,495.2 1628.4,495.5 1628.5,487.4 1628.7,495.2 1628.8,493.1 1629.0,490.2 1629.1,496.5 1629.2,497.4 1629.4,499.4 1629.5,488.5 1629.7,490.5 1629.8,500.3 1629.9,496.5 1630.1,497.8 1630.2,491.8 1630.4,495.8 1630.5,497.9 1630.6,488.7 1630.8,491.2 1630.9,495.4 1631.1,500.4 1631.2,492.4 1631.3,497.3 1631.5,487.7 1631.6,489.1 1631.8,497.2 1631.9,489.9 1632.0,494.6 1632.2,492.0 1632.3,496.8 1632.5,488.9 1632.6,488.3 1632.7,488.2 1632.9,493.7 1633.0,500.3 1633.2,498.3 1633.3,495.5 1633.4,494.0 1633.6,500.1 1633.7,494.2 1633.9,499.3 1634.0,500.8 1634.1,497.8 1634.3,496.6 1634.4,496.5 1634.6,494.5 1634.7,496.1 1634.8,491.0 1635.0,491.2 1635.1,501.9 1635.3,494.4 1635.4,487.5 1635.5,501.0 1635.7,501.0 1635.8,497.1 1636.0,489.7 1636.1,503.7 1636.2,500.0 1636.4,500.7 1636.5,494.2 1636.7,497.1 1636.8,494.1 1636.9,494.3 1637.1,490.3 1637.2,492.0 1637.4,493.2" fill="none" stroke="#000" stroke-width="1" shape-rendering="crispEdges"/>
<polyline points="1098.5,255.3 1098.6,257.8 1098.8,255.1 1098.9,246.4 1099.1,258.1 1099.2,255.6 1099.3,248.0 1099.5,256.2 1099.6,255.0 1099.8,254.5 1099.9,253.1 1100.0,255.8 1100.2,248.9 1100.3,251.9 1100.5,250.1 1100.6,255.8 1100.7,252.8 1100.9,251.0 1101.0,248.3 1101.2,251.0 1101.3,252.4 1101.4,250.8 1101.6,259.1 1101.7,257.6 1101.9,237.6 1102.0,242.0 1102.1,251.1 1102.3,249.7 1102.4,253.0 1102.6,253.0 1102.7,263.1 1102.8,245.8 1103.0,249.7 1103.1,262.6 1103.3,255.0 1103.4,255.1 1103.5,248.7 1103.7,242.6 1103.8,252.2 1104.0,251.9 1104.1,244.6 1104.2,247.5 1104.4,250.7 1104.5,241.9 1104.7,250.5 1104.8,251.5 1104.9,251.1 1105.1,248.1 1105.2,254.0 1105.4,255.5 1105.5,252.4 1105.6,246.2 1105.8,254.5 1105.9,247.8 1106.1,255.2 1106.2,244.6 1106.3,255.3 1106.5,250.2 1106.6,243.5 1106.8,248.5 1106.9,250.5 1107.0,251.6 1107.2,244.7 1107.3,244.0 1107.5,251.0 1107.6,247.4 1107.7,251.1 1107.9,253.9 1108.0,240.8 1108.2,251.1 1108.3,256.3 1108.4,248.0 1108.6,245.2 1108.7,253.6 1108.9,250.8 1109.0,254.3 1109.1,247.5 1109.3,241.3 1109.4,248.7 1109.6,246.8 1109.7,253.4 1109.8,250.2 1110.0,240.2 1110.1,242.5 1110.3,253.8 1110.4,252.6 1110.5,245.4 1110.7,248.8 1110.8,251.2 1111.0,251.3 1111.1,253.5 1111.2,250.0 1111.4,248.1 1111.5,247.1 1111.7,254.2 1111.8,236.1 1111.9,247.6 1112.1,248.5 1112.2,240.5 1112.4,250.0 1112.5,244.6 1112.6,252.8 1112.8,247.4 1112.9,251.7 1113.1,254.6 1113.2,250.0 1113.3,243.1 1113.5,239.5 1113.6,257.4 1113.8,247.1 1113.9,243.9 1114.0,248.4 1114.2,246.5 1114.3,252.2 1114.5,247.6 1114.6,247.5 1114.7,243.4 1114.9,249.9 1115.0,241.5 1115.2,250.8 1115.3,255.5 1115.4,238.7 1115.6,233.4 1115.7,250.3 1115.9,260.9 1116.0,241.3 1116.1,239.9 1116.3,250.0 1116.4,242.0 1116.6,243.8 1116.7,244.6 1116.8,249.4 1117.0,244.2 1117.1,247.9 1117.3,245.4 1117.4,241.6 1117.5,244.5 1117.7,240.9 1117.8,246.1 1118.0,239.8 1118.1,239.9 1118.2,254.0 1118.4,245.6 1118.5,245.5 1118.7,248.6 1118.8,243.4 1118.9,244.4 1119.1,248.0 1119.2,247.1 1119.4,239.0 1119.5,250.1 1119.6,242.1 1119.8,239.4 1119.9,240.2 1120.1,243.0 1120.2,254.2 1120.3,238.5 1120.5,245.9 1120.6,233.0 1120.8,244.9 1120.9,249.9 1121.0,243.5 1121.2,241.2 1121.3,245.9 1121.5,248.5 1121.6,248.2 1121.7,255.5 1121.9,245.6 1122.0,241.0 1122.2,243.6 1122.3,243.8 1122.4,244.8 1122.6,243.8 1122.7,245.0 1122.9,234.6 1123.0,248.6 1123.1,240.6 1123.3,237.2 1123.4,247.3 1123.6,251.1 1123.7,246.4 1123.8,244.5 1124.0,238.3 1124.1,259.6 1124.3,248.3 1124.4,236.9 1124.5,238.9 1124.7,243.7 1124.8,234.4 1125.0,244.0 1125.1,240.4 1125.2,249.9 1125.4,248.4 1125.5,227.6 1125.7,243.0 1125.8,233.6 1125.9,249.0 1126.1,243.6 1126.2,245.7 1126.4,236.5 1126.5,261.1 1126.6,253.9 1126.8,236.3 1126.9,244.4 1127.1,238.5 1127.2,242.1 1127.3,235.0 1127.5,252.7 1127.6,236.5 1127.8,240.3 1127.9,244.8 1128.0,238.2 1128.2,240.5 1128.3,238.6 1128.5,241.0 1128.6,235.0 1128.7,239.1 1128.9,240.4 1129.0,239.6 1129.2,241.7 1129.3,239.7 1129.4,245.6 1129.6,239.4 1129.7,240.4 1129.9,237.3 1130.0,238.1 1130.1,233.8 1130.3,243.9 1130.4,234.3 1130.6,236.5 1130.7,242.8 1130.8,243.0 1131.0,238.3 1131.1,229.0 1131.3,242.9 1131.4,241.9 1131.5,232.2 1131.7,244.6 1131.8,236.1 1132.0,233.6 1132.1,240.5 1132.2,238.9 1132.4,241.0 1132.5,230.5 1132.7,250.1 1132.8,236.1 1132.9,230.6 1133.1,243.0 1133.2,237.3 1133.4,241.1 1133.5,237.2 1133.6,238.7 1133.8,240.4 1133.9,234.5 1134.1,245.8 1134.2,235.9 1134.3,233.5 1134.5,238.9 1134.6,240.9 1134.8,236.9 1134.9,233.1 1135.0,241.5 1135.2,227.6 1135.3,231.7 1135.5,237.8 1135.6,229.5 1135.7,237.4 1135.9,236.8 1136.0,242.2 1136.2,227.2 1136.3,233.0 1136.4,238.5 1136.6,222.0 1136.7,254.4 1136.9,231.9 1137.0,231.6 1137.1,240.7 1137.3,235.3 1137.4,224.8 1137.6,238.8 1137.7,240.0 1137.8,232.1 1138.0,232.9 1138.1,237.2 1138.3,228.8 1138.4,236.5 1138.5,234.9 1138.7,229.5 1138.8,225.0 1139.0,231.7 1139.1,223.4 1139.2,238.6 1139.4,233.2 1139.5,236.8 1139.7,232.6 1139.8,233.1 1139.9,226.6 1140.1,235.0 1140.2,241.4 1140.4,228.5 1140.5,226.4 1140.6,228.7 1140.8,226.4 1140.9,224.7 1141.1,229.5 1141.2,226.5 1141.3,236.7 1141.5,227.5 1141.6,229.0 1141.8,232.5 1141.9,224.4 1142.0,234.6 1142.2,221.4 1142.3,219.9 1142.5,222.1 1142.6,223.2 1142.7,214.7 1142.9,222.7 1143.0,212.0 1143.2,230.7 1143.3,220.9 1143.4,216.8 1143.6,214.5 1143.7,217.2 1143.9,217.6 1144.0,211.6 1144.1,211.6 1144.3,215.6 1144.4,212.6 1144.6,221.2 1144.7,221.7 1144.8,213.5 1145.0,215.6 1145.1,202.7 1145.3,214.8 1145.4,209.4 1145.5,211.8 1145.7,218.3 1145.8,191.3 1146.0,207.3 1146.1,197.1 1146.2,207.6 1146.4,193.5 1146.5,198.1 1146.7,201.9 1146.8,203.7 1146.9,198.9 1147.1,191.9 1147.2,192.5 1147.4,201.5 1147.5,194.1 1147.6,181.1 1147.8,197.9 1147.9,193.7 1148.1,195.8 1148.2,185.9 1148.3,193.1 1148.5,178.3 1148.6,188.9 1148.8,180.0 1148.9,187.4 1149.0,188.8 1149.2,174.9 1149.3,178.9 1149.5,178.6 1149.6,186.2 1149.7,181.6 1149.9,166.0 1150.0,177.5 1150.2,178.6 1150.3,188.0 1150.4,157.9 1150.6,165.5 1150.7,178.8 1150.9,157.2 1151.0,157.4 1151.1,169.9 1151.3,173.1 1151.4,159.4 1151.6,168.3 1151.7,164.7 1151.8,175.5 1152.0,163.6 1152.1,171.6 1152.3,157.2 1152.4,163.3 1152.5,164.6 1152.7,175.0 1152.8,171.5 1153.0,162.2 1153.1,174.3 1153.2,176.1 1153.4,170.5 1153.5,170.5 1153.7,172.2 1153.8,162.1 1153.9,177.4 1154.1,178.8 1154.2,171.7 1154.4,184.6 1154.5,169.8 1154.6,176.8 1154.8,178.2 1154.9,197.1 1155.1,171.6 1155.2,188.3 1155.3,191.9 1155.5,188.6 1155.6,195.2 1155.8,180.2 1155.9,171.8 1156.0,194.6 1156.2,181.3 1156.3,188.4 1156.5,183.1 1156.6,199.8 1156.7,199.2 1156.9,188.8 1157.0,201.0 1157.2,196.3 1157.3,195.2 1157.4,197.4 1157.6,196.3 1157.7,202.8 1157.9,201.4 1158.0,197.6 1158.1,207.7 1158.3,197.3 1158.4,205.8 1158.6,205.9 1158.7,213.8 1158.8,201.1 1159.0,217.1 1159.1,207.2 1159.3,205.5 1159.4,203.0 1159.5,212.2 1159.7,209.4 1159.8,202.5 1160.0,203.1 1160.1,207.6 1160.2,207.6 1160.4,219.9 1160.5,222.4 1160.7,219.8 1160.8,217.2 1160.9,212.8 1161.1,216.6 1161.2,222.7 1161.4,231.3 1161.5,224.2 1161.6,217.2 1161.8,219.9 1161.9,217.2 1162.1,215.9 1162.2,220.3 1162.3,223.3 1162.5,234.2 1162.6,223.6 1162.8,232.3 1162.9,235.4 1163.0,225.4 1163.2,235.5 1163.3,230.5 1163.5,224.1 1163.6,228.8 1163.7,227.9 1163.9,226.9 1164.0,227.6 1164.2,230.3 1164.3,232.6 1164.4,225.1 1164.6,231.0 1164.7,222.4 1164.9,234.9 1165.0,236.3 1165.1,234.0 1165.3,235.3 1165.4,237.5 1165.6,227.5 1165.7,233.6 1165.8,238.4 1166.0,241.8 1166.1,238.6 1166.3,251.6 1166.4,236.6 1166.5,243.3 1166.7,245.2 1166.8,237.4 1167.0,233.8 1167.1,232.0 1167.2,240.1 1167.4,245.8 1167.5,241.3 1167.7,240.9 1167.8,238.0 1167.9,243.6 1168.1,228.4 1168.2,242.1 1168.4,241.2 1168.5,233.4 1168.6,253.8 1168.8,233.7 1168.9,235.7 1169.1,235.2 1169.2,248.5 1169.3,237.3 1169.5,246.3 1169.6,246.0 1169.8,244.3 1169.9,235.6 1170.0,239.7 1170.2,252.7 1170.3,236.1 1170.5,235.1 1170.6,242.8 1170.7,248.3 1170.9,245.3 1171.0,248.2 1171.2,238.1 1171.3,249.5 1171.4,247.5 1171.6,235.4 1171.7,253.0 1171.9,267.5 1172.0,240.2 1172.1,244.9 1172.3,252.4 1172.4,236.3 1172.6,233.5 1172.7,237.5 1172.8,241.6 1173.0,241.5 1173.1,248.2 1173.3,246.3 1173.4,237.9 1173.5,248.1 1173.7,255.4 1173.8,251.7 1174.0,250.5 1174.1,245.2 1174.2,250.6 1174.4,239.7 1174.5,249.3 1174.7,244.7 1174.8,251.5 1174.9,247.8 1175.1,239.2 1175.2,246.0 1175.4,252.1 1175.5,239.0 1175.6,242.2 1175.8,241.1 1175.9,237.0 1176.1,250.7 1176.2,252.7 1176.3,249.9 1176.5,247.9 1176.6,245.1 1176.8,246.8 1176.9,241.4 1177.0,250.4 1177.2,251.3 1177.3,250.7 1177.5,242.5 1177.6,245.9 1177.7,244.6 1177.9,255.4 1178.0,246.5 1178.2,235.0 1178.3,247.7 1178.4,256.0 1178.6,249.3 1178.7,250.4 1178.9,245.7 1179.0,234.5 1179.1,235.4 1179.3,238.5 1179.4,244.7 1179.6,247.2 1179.7,249.3 1179.8,243.5 1180.0,250.7 1180.1,243.8 1180.3,241.5 1180.4,250.1 1180.5,240.2 1180.7,230.1 1180.8,239.4 1181.0,245.8 1181.1,228.1 1181.2,243.2 1181.4,243.3 1181.5,237.2 1181.7,230.3 1181.8,242.5 1181.9,242.0 1182.1,252.1 1182.2,247.1 1182.4,236.1 1182.5,240.1 1182.6,248.8 1182.8,255.4 1182.9,246.9 1183.1,246.5 1183.2,255.1 1183.3,244.5 1183.5,242.8 1183.6,236.6 1183.8,241.6 1183.9,256.6 1184.0,236.4 1184.2,244.3 1184.3,236.3 1184.5,244.8 1184.6,249.0 1184.7,242.6 1184.9,247.8 1185.0,247.3 1185.2,245.0 1185.3,251.4 1185.4,245.0 1185.6,237.6 1185.7,234.1 1185.9,231.8 1186.0,238.1 1186.1,231.9 1186.3,248.6 1186.4,250.8 1186.6,227.9 1186.7,225.3 1186.8,235.8 1187.0,211.4 1187.1,217.9 1187.3,224.3 1187.4,209.7 1187.5,209.7 1187.7,207.7 1187.8,211.5 1188.0,204.9 1188.1,203.7 1188.2,201.9 1188.4,194.8 1188.5,199.3 1188.7,182.9 1188.8,174.5 1188.9,168.7 1189.1,166.5 1189.2,171.4 1189.4,180.3 1189.5,170.9 1189.6,162.1 1189.8,155.5 1189.9,156.7 1190.1,154.6 1190.2,150.3 1190.3,140.1 1190.5,146.5 1190.6,149.9 1190.8,132.7 1190.9,138.1 1191.0,126.7 1191.2,133.8 1191.3,126.6 1191.5,117.7 1191.6,124.4 1191.7,129.0 1191.9,118.7 1192.0,120.6 1192.2,112.5 1192.3,100.8 1192.4,110.0 1192.6,103.7 1192.7,97.0 1192.9,104.8 1193.0,100.5 1193.1,94.9 1193.3,99.1 1193.4,89.5 1193.6,94.3 1193.7,85.5 1193.8,90.2 1194.0,77.4 1194.1,90.9 1194.3,83.8 1194.4,87.4 1194.5,75.9 1194.7,75.9 1194.8,80.2 1195.0,63.0 1195.1,69.0 1195.2,76.9 1195.4,73.1 1195.5,74.1 1195.7,67.2 1195.8,69.8 1195.9,62.8 1196.1,58.7 1196.2,56.0 1196.4,59.7 1196.5,58.4 1196.6,56.8 1196.8,42.8 1196.9,48.4 1197.1,53.7 1197.2,56.2 1197.3,51.4 1197.5,49.1 1197.6,42.0 1197.8,60.2 1197.9,45.8 1198.0,57.5 1198.2,56.5 1198.3,50.5 1198.5,46.6 1198.6,49.6 1198.7,44.1 1198.9,50.7 1199.0,50.1 1199.2,53.3 1199.3,56.1 1199.4,60.7 1199.6,52.7 1199.7,60.4 1199.9,53.9 1200.0,55.0 1200.1,57.9 1200.3,58.0 1200.4,68.3 1200.6,69.8 1200.7,73.5 1200.8,70.4 1201.0,74.6 1201.1,74.1 1201.3,74.9 1201.4,85.5 1201.5,88.2 1201.7,85.7 1201.8,96.5 1202.0,89.5 1202.1,99.3 1202.2,99.9 1202.4,102.6 1202.5,102.3 1202.7,113.4 1202.8,113.7 1202.9,118.3 1203.1,115.6 1203.2,111.1 1203.4,116.9 1203.5,115.1 1203.6,124.0 1203.8,128.9 1203.9,126.6 1204.1,124.1 1204.2,126.6 1204.3,130.7 1204.5,124.9 1204.6,133.3 1204.8,135.0 1204.9,133.1 1205.0,135.1 1205.2,139.1 1205.3,136.2 1205.5,137.6 1205.6,146.1 1205.7,145.1 1205.9,152.9 1206.0,142.6 1206.2,140.5 1206.3,153.8 1206.4,158.7 1206.6,146.3 1206.7,141.8 1206.9,154.5 1207.0,142.2 1207.1,154.6 1207.3,141.2 1207.4,157.7 1207.6,144.0 1207.7,159.8 1207.8,174.5 1208.0,161.5 1208.1,170.4 1208.3,160.2 1208.4,159.0 1208.5,155.0 1208.7,175.2 1208.8,167.2 1209.0,180.6 1209.1,159.6 1209.2,167.4 1209.4,170.1 1209.5,180.7 1209.7,184.2 1209.8,165.8 1209.9,162.5 1210.1,158.2 1210.2,182.0 1210.4,171.5 1210.5,167.5 1210.6,172.4 1210.8,153.7 1210.9,160.3 1211.1,180.7 1211.2,176.9 1211.3,175.4 1211.5,166.9 1211.6,179.2 1211.8,188.4 1211.9,166.1 1212.0,175.7 1212.2,172.5 1212.3,178.8 1212.5,176.4 1212.6,175.5 1212.7,170.3 1212.9,177.0 1213.0,172.8 1213.2,176.6 1213.3,177.5 1213.4,183.2 1213.6,174.3 1213.7,176.5 1213.9,187.2 1214.0,178.0 1214.1,178.0 1214.3,186.7 1214.4,182.7 1214.6,181.7 1214.7,183.0 1214.8,172.6 1215.0,185.5 1215.1,192.2 1215.3,187.2 1215.4,171.9 1215.5,185.8 1215.7,177.5 1215.8,182.8 1216.0,185.8 1216.1,176.6 1216.2,195.4 1216.4,185.6 1216.5,196.6 1216.7,191.5 1216.8,197.0 1216.9,196.3 1217.1,177.5 1217.2,188.8 1217.4,173.6 1217.5,186.1 1217.6,194.8 1217.8,196.6 1217.9,199.7 1218.1,188.2 1218.2,193.5 1218.3,192.3 1218.5,201.0 1218.6,203.7 1218.8,190.3 1218.9,219.9 1219.0,193.5 1219.2,191.3 1219.3,198.5 1219.5,200.0 1219.6,198.8 1219.7,190.8 1219.9,206.0 1220.0,196.4 1220.2,215.6 1220.3,206.5 1220.4,188.2 1220.6,190.6 1220.7,190.8 1220.9,199.8 1221.0,198.9 1221.1,200.5 1221.3,193.3 1221.4,202.2 1221.6,209.2 1221.7,190.5 1221.8,198.7 1222.0,202.0 1222.1,199.6 1222.3,198.3 1222.4,213.2 1222.5,210.1 1222.7,207.4 1222.8,196.6 1223.0,217.3 1223.1,204.7 1223.2,198.5 1223.4,200.4 1223.5,199.6 1223.7,217.6 1223.8,204.7 1223.9,204.0 1224.1,189.1 1224.2,209.0 1224.4,197.0 1224.5,196.7 1224.6,208.7 1224.8,198.9 1224.9,210.6 1225.1,212.8 1225.2,193.3 1225.3,203.8 1225.5,195.2 1225.6,205.5 1225.8,212.3 1225.9,189.8 1226.0,218.6 1226.2,204.6 1226.3,199.0 1226.5,206.3 1226.6,212.6 1226.7,198.3 1226.9,207.7 1227.0,198.7 1227.2,216.1 1227.3,209.3 1227.4,205.6 1227.6,215.5 1227.7,193.3 1227.9,204.2 1228.0,221.5 1228.1,208.6 1228.3,218.6 1228.4,211.1 1228.6,205.4 1228.7,208.6 1228.8,211.0 1229.0,208.0 1229.1,205.5 1229.3,206.0 1229.4,201.6 1229.5,212.3 1229.7,214.4 1229.8,217.0 1230.0,200.5 1230.1,217.8 1230.2,212.7 1230.4,203.7 1230.5,214.0 1230.7,218.9 1230.8,217.3 1230.9,218.9 1231.1,220.6 1231.2,220.5 1231.4,214.8 1231.5,201.9 1231.6,210.7 1231.8,218.3 1231.9,213.3 1232.1,221.1 1232.2,222.2 1232.3,217.7 1232.5,229.8 1232.6,211.9 1232.8,224.4 1232.9,215.8 1233.0,214.3 1233.2,223.3 1233.3,216.1 1233.5,225.8 1233.6,213.4 1233.7,221.4 1233.9,216.2 1234.0,220.4 1234.2,220.0 1234.3,215.6 1234.4,227.1 1234.6,215.6 1234.7,217.7 1234.9,229.7 1235.0,230.6 1235.1,229.0 1235.3,227.3 1235.4,239.7 1235.6,218.5 1235.7,221.7 1235.8,220.5 1236.0,232.4 1236.1,229.0 1236.3,234.3 1236.4,233.7 1236.5,226.7 1236.7,223.3 1236.8,222.5 1237.0,242.3 1237.1,234.9 1237.2,232.9 1237.4,227.5 1237.5,228.5 1237.7,227.9 1237.8,228.2 1237.9,215.9 1238.1,230.2 1238.2,228.5 1238.4,232.7 1238.5,232.5 1238.6,236.5 1238.8,231.5 1238.9,236.5 1239.1,216.6 1239.2,225.6 1239.3,242.6 1239.5,225.2 1239.6,231.0 1239.8,237.1 1239.9,227.8 1240.0,237.5 1240.2,224.9 1240.3,222.2 1240.5,225.8 1240.6,224.1 1240.7,233.9 1240.9,232.3 1241.0,236.3 1241.2,228.4 1241.3,249.7 1241.4,234.3 1241.6,234.7 1241.7,237.8 1241.9,233.9 1242.0,231.7 1242.1,236.1 1242.3,241.1 1242.4,239.8 1242.6,241.6 1242.7,232.9 1242.8,231.8 1243.0,248.3 1243.1,235.3 1243.3,239.6 1243.4,241.3 1243.5,245.5 1243.7,229.5 1243.8,234.7 1244.0,235.1 1244.1,236.1 1244.2,224.0 1244.4,237.6 1244.5,221.6 1244.7,240.2 1244.8,241.8 1244.9,242.3 1245.1,232.1 1245.2,244.7 1245.4,234.4 1245.5,232.5 1245.6,234.1 1245.8,235.1 1245.9,241.1 1246.1,245.1 1246.2,228.5 1246.3,237.6 1246.5,246.1 1246.6,242.3 1246.8,244.2 1246.9,233.0 1247.0,247.1 1247.2,233.0 1247.3,243.2 1247.5,250.0 1247.6,253.2 1247.7,245.6 1247.9,247.9 1248.0,239.7 1248.2,240.6 1248.3,250.1 1248.4,243.7 1248.6,243.2 1248.7,236.2 1248.9,245.1 1249.0,248.1 1249.1,240.2 1249.3,242.0 1249.4,253.8 1249.6,246.2 1249.7,243.8 1249.8,239.2 1250.0,242.3 1250.1,244.5 1250.3,253.7 1250.4,242.9 1250.5,256.4 1250.7,241.5 1250.8,244.8 1251.0,251.6 1251.1,245.8 1251.2,242.7 1251.4,246.7 1251.5,250.0 1251.7,238.2 1251.8,246.4 1251.9,247.3 1252.1,245.9 1252.2,252.2 1252.4,245.2 1252.5,246.5 1252.6,248.8 1252.8,252.7 1252.9,247.7 1253.1,257.3 1253.2,244.2 1253.3,256.3 1253.5,244.8 1253.6,248.7 1253.8,251.7 1253.9,261.0 1254.0,254.9 1254.2,248.0 1254.3,257.3 1254.5,249.3 1254.6,246.3 1254.7,253.1 1254.9,251.4 1255.0,256.1 1255.2,248.2 1255.3,253.3 1255.4,254.8 1255.6,253.0 1255.7,251.5 1255.9,248.0 1256.0,256.7 1256.1,252.7 1256.3,254.8 1256.4,250.3 1256.6,252.4 1256.7,246.9 1256.8,253.0 1257.0,256.7 1257.1,253.2 1257.3,257.4 1257.4,254.5 1257.5,260.2 1257.7,252.0 1257.8,244.4 1258.0,255.5 1258.1,252.4 1258.2,248.1 1258.4,256.8 1258.5,254.8 1258.7,255.8 1258.8,251.7 1258.9,254.5 1259.1,254.8 1259.2,262.9 1259.4,249.9 1259.5,253.4 1259.6,255.4 1259.8,244.3 1259.9,245.0 1260.1,264.9 1260.2,244.0 1260.3,256.4 1260.5,248.8 1260.6,249.2 1260.8,242.7 1260.9,248.3 1261.0,257.2 1261.2,245.6 1261.3,256.0 1261.5,254.5 1261.6,263.4 1261.7,250.1 1261.9,259.3 1262.0,257.2 1262.2,250.8 1262.3,243.4 1262.4,260.2 1262.6,244.8 1262.7,249.4 1262.9,256.6 1263.0,262.5 1263.1,247.1 1263.3,251.4 1263.4,250.1 1263.6,257.7 1263.7,264.7 1263.8,241.3 1264.0,256.0 1264.1,235.6 1264.3,251.0 1264.4,244.8 1264.5,261.5 1264.7,251.6 1264.8,246.6 1265.0,247.8 1265.1,247.4 1265.2,251.4 1265.4,249.5 1265.5,253.8 1265.7,258.5 1265.8,254.0 1265.9,243.5 1266.1,241.3 1266.2,245.9 1266.4,255.6 1266.5,248.1 1266.6,246.2 1266.8,250.5 1266.9,242.1 1267.1,243.5 1267.2,252.4 1267.3,248.0 1267.5,247.1 1267.6,251.2 1267.8,246.3 1267.9,245.7 1268.0,246.9 1268.2,252.6 1268.3,249.6 1268.5,242.7 1268.6,247.5 1268.7,252.6 1268.9,259.3 1269.0,242.8 1269.2,250.8 1269.3,247.5 1269.4,253.4 1269.6,251.3 1269.7,256.8 1269.9,251.6 1270.0,243.3 1270.1,245.7 1270.3,252.5 1270.4,250.7 1270.6,261.6 1270.7,257.6 1270.8,241.9 1271.0,250.2 1271.1,240.9 1271.3,239.1 1271.4,252.2 1271.5,251.1 1271.7,237.7 1271.8,256.9 1272.0,242.5 1272.1,236.2 1272.2,251.3 1272.4,248.8 1272.5,246.6 1272.7,247.1 1272.8,248.6 1272.9,246.5 1273.1,246.3 1273.2,236.7 1273.4,239.7 1273.5,250.3 1273.6,243.0 1273.8,249.8 1273.9,253.5 1274.1,244.6 1274.2,248.1 1274.3,257.9 1274.5,250.2 1274.6,256.4 1274.8,254.6 1274.9,250.2 1275.0,245.3 1275.2,241.2 1275.3,239.6 1275.5,248.4 1275.6,248.2 1275.7,244.5 1275.9,250.1 1276.0,241.9 1276.2,251.4 1276.3,245.3 1276.4,244.8 1276.6,244.9 1276.7,244.2 1276.9,258.6 1277.0,235.6 1277.1,245.5 1277.3,251.3 1277.4,248.3 1277.6,242.5 1277.7,253.8 1277.8,238.0 1278.0,236.6 1278.1,247.0 1278.3,235.5 1278.4,230.2 1278.5,248.5 1278.7,247.7 1278.8,247.4 1279.0,240.5 1279.1,244.2 1279.2,237.6 1279.4,252.7 1279.5,247.3 1279.7,247.0 1279.8,222.8 1279.9,247.2 1280.1,251.0 1280.2,249.3 1280.4,246.8 1280.5,242.3 1280.6,240.3 1280.8,245.5 1280.9,244.2 1281.1,243.3 1281.2,240.1 1281.3,251.4 1281.5,235.1 1281.6,241.5 1281.8,238.3 1281.9,247.4 1282.0,249.6 1282.2,248.4 1282.3,245.6 1282.5,233.2 1282.6,253.0 1282.7,244.0 1282.9,240.3 1283.0,241.0 1283.2,237.3 1283.3,243.1 1283.4,242.4 1283.6,238.4 1283.7,225.7 1283.9,240.1 1284.0,243.0 1284.1,243.2 1284.3,239.2 1284.4,242.6 1284.6,250.5 1284.7,237.1 1284.8,248.2 1285.0,228.4 1285.1,232.3 1285.3,234.3 1285.4,225.3 1285.5,233.6 1285.7,246.5 1285.8,246.3 1286.0,239.7 1286.1,249.0 1286.2,240.3 1286.4,236.0 1286.5,240.2 1286.7,238.0 1286.8,242.9 1286.9,229.9 1287.1,244.3 1287.2,235.8 1287.4,243.4 1287.5,229.4 1287.6,235.9 1287.8,238.7 1287.9,243.4 1288.1,231.1 1288.2,247.7 1288.3,240.8 1288.5,234.9 1288.6,245.0 1288.8,238.5 1288.9,244.6 1289.0,251.3 1289.2,242.2 1289.3,234.7 1289.5,233.2 1289.6,241.0 1289.7,239.3 1289.9,232.8 1290.0,233.7 1290.2,241.4 1290.3,251.2 1290.4,222.2 1290.6,241.7 1290.7,236.3 1290.9,242.0 1291.0,242.5 1291.1,237.8 1291.3,231.6 1291.4,229.4 1291.6,226.6 1291.7,244.6 1291.8,236.3 1292.0,234.4 1292.1,236.0 1292.3,229.8 1292.4,239.4 1292.5,245.3 1292.7,244.3 1292.8,228.6 1293.0,245.7 1293.1,233.4 1293.2,226.7 1293.4,230.7 1293.5,232.3 1293.7,237.9 1293.8,232.0 1293.9,229.3 1294.1,236.6 1294.2,249.3 1294.4,234.1 1294.5,241.0 1294.6,238.8 1294.8,253.8 1294.9,218.7 1295.1,244.8 1295.2,225.2 1295.3,235.2 1295.5,238.1 1295.6,257.2 1295.8,234.4 1295.9,228.0 1296.0,246.4 1296.2,234.2 1296.3,237.7 1296.5,239.0 1296.6,239.8 1296.7,238.3 1296.9,240.9 1297.0,241.6 1297.2,244.4 1297.3,237.1 1297.4,235.3 1297.6,233.6 1297.7,243.2 1297.9,239.6 1298.0,243.1 1298.1,243.1 1298.3,249.7 1298.4,241.3 1298.6,244.5 1298.7,233.3 1298.8,229.2 1299.0,238.6 1299.1,233.5 1299.3,244.4 1299.4,232.9 1299.5,241.0 1299.7,226.6 1299.8,234.4 1300.0,238.9 1300.1,239.4 1300.2,230.7 1300.4,241.6 1300.5,246.6 1300.7,244.8 1300.8,237.4 1300.9,237.8 1301.1,234.5 1301.2,244.9 1301.4,249.5 1301.5,238.4 1301.6,231.7 1301.8,242.6 1301.9,245.5 1302.1,226.0 1302.2,242.3 1302.3,253.9 1302.5,246.3 1302.6,244.8 1302.8,244.0 1302.9,247.8 1303.0,236.4 1303.2,237.0 1303.3,244.1 1303.5,238.0 1303.6,243.4 1303.7,231.1 1303.9,246.3 1304.0,246.8 1304.2,242.3 1304.3,243.0 1304.4,251.3 1304.6,236.0 1304.7,237.0 1304.9,236.0 1305.0,239.9 1305.1,236.6 1305.3,242.5 1305.4,238.7 1305.6,234.2 1305.7,233.7 1305.8,249.3 1306.0,242.1 1306.1,241.3 1306.3,242.7 1306.4,242.1 1306.5,246.9 1306.7,245.8 1306.8,239.4 1307.0,238.1 1307.1,236.6 1307.2,230.1 1307.4,250.7 1307.5,237.7 1307.7,231.5 1307.8,238.2 1307.9,238.5 1308.1,244.8 1308.2,238.0 1308.4,246.0 1308.5,245.2 1308.6,250.2 1308.8,255.3 1308.9,259.2 1309.1,250.8 1309.2,236.6 1309.3,240.9 1309.5,244.6 1309.6,254.9 1309.8,247.1 1309.9,250.1 1310.0,242.3 1310.2,246.6 1310.3,247.4 1310.5,240.8 1310.6,247.7 1310.7,249.4 1310.9,242.5 1311.0,249.1 1311.2,252.7 1311.3,243.8 1311.4,243.5 1311.6,241.7 1311.7,240.0 1311.9,244.4 1312.0,241.2 1312.1,241.7 1312.3,239.1 1312.4,234.9 1312.6,238.2 1312.7,245.4 1312.8,236.8 1313.0,239.9 1313.1,252.7 1313.3,249.8 1313.4,239.6 1313.5,246.9 1313.7,239.8 1313.8,252.7 1314.0,240.2 1314.1,244.0 1314.2,251.3 1314.4,238.8 1314.5,256.7 1314.7,238.9 1314.8,244.8 1314.9,241.8 1315.1,243.0 1315.2,244.4 1315.4,243.1 1315.5,237.7 1315.6,248.3 1315.8,247.5 1315.9,250.7 1316.1,251.3 1316.2,235.9 1316.3,256.5 1316.5,250.8 1316.6,240.4 1316.8,249.3 1316.9,251.7 1317.0,240.4 1317.2,235.7 1317.3,241.4 1317.5,259.1 1317.6,244.7 1317.7,236.6 1317.9,242.0 1318.0,237.8 1318.2,241.1 1318.3,243.9 1318.4,229.0 1318.6,245.4 1318.7,251.3 1318.9,242.3 1319.0,241.2 1319.1,249.5 1319.3,236.2 1319.4,236.3 1319.6,235.5 1319.7,242.4 1319.8,245.5 1320.0,242.8 1320.1,246.4 1320.3,251.7 1320.4,246.1 1320.5,238.7 1320.7,241.8 1320.8,250.3 1321.0,237.4 1321.1,241.8 1321.2,240.9 1321.4,242.2 1321.5,237.2 1321.7,235.6 1321.8,257.6 1321.9,248.5 1322.1,239.2 1322.2,242.9 1322.4,247.0 1322.5,241.2 1322.6,246.6 1322.8,239.7 1322.9,241.1 1323.1,242.7 1323.2,240.5 1323.3,229.3 1323.5,243.2 1323.6,244.6 1323.8,245.8 1323.9,237.5 1324.0,245.0 1324.2,244.3 1324.3,233.1 1324.5,230.6 1324.6,245.7 1324.7,237.6 1324.9,248.7 1325.0,255.1 1325.2,239.7 1325.3,236.0 1325.4,242.9 1325.6,246.8 1325.7,236.5 1325.9,250.0 1326.0,248.5 1326.1,246.6 1326.3,239.8 1326.4,248.0 1326.6,247.7 1326.7,236.1 1326.8,254.6 1327.0,241.1 1327.1,244.9 1327.3,239.8 1327.4,246.7 1327.5,249.3 1327.7,238.2 1327.8,233.3 1328.0,240.1 1328.1,235.3 1328.2,238.3 1328.4,241.9 1328.5,242.2 1328.7,249.9 1328.8,236.8 1328.9,244.5 1329.1,239.6 1329.2,250.2 1329.4,256.7 1329.5,244.1 1329.6,251.9 1329.8,239.3 1329.9,233.2 1330.1,235.1 1330.2,233.3 1330.3,236.8 1330.5,240.8 1330.6,248.7 1330.8,249.3 1330.9,244.7 1331.0,239.6 1331.2,237.9 1331.3,242.1 1331.5,242.7 1331.6,243.3 1331.7,243.9 1331.9,241.1 1332.0,230.8 1332.2,235.4 1332.3,237.0 1332.4,251.3 1332.6,239.1 1332.7,245.4 1332.9,249.8 1333.0,243.3 1333.1,239.1 1333.3,239.6 1333.4,235.4 1333.6,242.9 1333.7,247.6 1333.8,244.3 1334.0,245.4 1334.1,245.1 1334.3,252.4 1334.4,237.2 1334.5,241.7 1334.7,244.8 1334.8,247.8 1335.0,226.7 1335.1,237.5 1335.2,239.3 1335.4,234.5 1335.5,245.2 1335.7,241.5 1335.8,237.9 1335.9,230.7 1336.1,232.4 1336.2,234.3 1336.4,242.5 1336.5,232.8 1336.6,227.8 1336.8,231.3 1336.9,236.1 1337.1,249.1 1337.2,253.8 1337.3,236.5 1337.5,244.5 1337.6,247.0 1337.8,246.2 1337.9,237.9 1338.0,230.8 1338.2,235.2 1338.3,227.0 1338.5,240.0 1338.6,241.7 1338.7,225.8 1338.9,236.2 1339.0,237.9 1339.2,243.1 1339.3,243.5 1339.4,239.7 1339.6,230.5 1339.7,231.9 1339.9,240.7 1340.0,229.5 1340.1,232.3 1340.3,241.4 1340.4,232.2 1340.6,222.6 1340.7,228.5 1340.8,233.6 1341.0,227.9 1341.1,235.5 1341.3,235.6 1341.4,223.1 1341.5,223.3 1341.7,225.0 1341.8,217.5 1342.0,226.6 1342.1,222.3 1342.2,227.5 1342.4,217.7 1342.5,214.8 1342.7,230.8 1342.8,212.1 1342.9,212.5 1343.1,209.9 1343.2,210.9 1343.4,204.9 1343.5,208.6 1343.6,198.2 1343.8,201.6 1343.9,204.4 1344.1,204.1 1344.2,199.8 1344.3,188.4 1344.5,193.3 1344.6,185.7 1344.8,180.1 1344.9,160.9 1345.0,171.3 1345.2,156.7 1345.3,157.0 1345.5,144.4 1345.6,129.5 1345.7,122.4 1345.9,128.0 1346.0,113.8 1346.2,115.5 1346.3,106.3 1346.4,112.1 1346.6,98.7 1346.7,100.6 1346.9,95.5 1347.0,83.6 1347.1,80.2 1347.3,84.3 1347.4,73.7 1347.6,65.5 1347.7,70.3 1347.8,72.2 1348.0,56.7 1348.1,59.5 1348.3,49.6 1348.4,53.9 1348.5,44.5 1348.7,51.5 1348.8,48.5 1349.0,46.7 1349.1,50.9 1349.2,50.5 1349.4,51.5 1349.5,55.9 1349.7,64.5 1349.8,64.4 1349.9,75.2 1350.1,79.5 1350.2,82.8 1350.4,81.8 1350.5,87.5 1350.6,90.3 1350.8,99.4 1350.9,93.2 1351.1,98.3 1351.2,102.2 1351.3,106.0 1351.5,106.7 1351.6,110.8 1351.8,121.8 1351.9,118.4 1352.0,129.4 1352.2,138.6 1352.3,144.9 1352.5,132.4 1352.6,150.3 1352.7,157.9 1352.9,165.4 1353.0,155.6 1353.2,180.5 1353.3,172.7 1353.4,203.3 1353.6,197.7 1353.7,211.3 1353.9,193.6 1354.0,188.7 1354.1,209.3 1354.3,210.9 1354.4,205.0 1354.6,219.2 1354.7,217.1 1354.8,206.6 1355.0,214.9 1355.1,216.4 1355.3,220.5 1355.4,224.2 1355.5,220.4 1355.7,225.1 1355.8,231.3 1356.0,228.5 1356.1,228.4 1356.2,229.2 1356.4,231.2 1356.5,221.0 1356.7,234.0 1356.8,227.5 1356.9,234.8 1357.1,219.3 1357.2,240.6 1357.4,237.1 1357.5,228.2 1357.6,238.0 1357.8,232.7 1357.9,248.1 1358.1,240.8 1358.2,233.8 1358.3,240.1 1358.5,239.0 1358.6,246.5 1358.8,242.0 1358.9,243.2 1359.0,234.2 1359.2,245.5 1359.3,253.2 1359.5,245.1 1359.6,241.5 1359.7,242.9 1359.9,236.8 1360.0,243.5 1360.2,236.4 1360.3,243.0 1360.4,240.7 1360.6,238.3 1360.7,246.4 1360.9,234.8 1361.0,243.1 1361.1,235.9 1361.3,253.7 1361.4,254.5 1361.6,252.3 1361.7,254.1 1361.8,246.7 1362.0,246.4 1362.1,240.9 1362.3,234.5 1362.4,244.0 1362.5,240.2 1362.7,240.7 1362.8,247.3 1363.0,242.4 1363.1,234.2 1363.2,241.1 1363.4,238.6 1363.5,241.2 1363.7,236.6 1363.8,249.6 1363.9,253.5 1364.1,236.3 1364.2,246.3 1364.4,245.9 1364.5,236.3 1364.6,242.9 1364.8,250.3 1364.9,247.0 1365.1,251.3 1365.2,235.4 1365.3,237.7 1365.5,243.5 1365.6,243.8 1365.8,241.8 1365.9,239.4 1366.0,239.2 1366.2,237.9 1366.3,243.9 1366.5,225.5 1366.6,250.3 1366.7,238.0 1366.9,232.8 1367.0,244.0 1367.2,232.7 1367.3,242.9 1367.4,238.3 1367.6,243.9 1367.7,245.0 1367.9,247.8 1368.0,237.4 1368.1,238.5 1368.3,240.0 1368.4,231.9 1368.6,243.3 1368.7,240.6 1368.8,232.0 1369.0,246.6 1369.1,247.4 1369.3,231.9 1369.4,242.7 1369.5,246.5 1369.7,244.1 1369.8,233.4 1370.0,230.9 1370.1,238.3 1370.2,236.0 1370.4,238.7 1370.5,238.0 1370.7,241.6 1370.8,235.2 1370.9,237.4 1371.1,255.5 1371.2,237.4 1371.4,242.3 1371.5,239.6 1371.6,239.1 1371.8,232.4 1371.9,240.7 1372.1,237.2 1372.2,242.2 1372.3,249.2 1372.5,238.2 1372.6,241.5 1372.8,231.0 1372.9,237.5 1373.0,245.8 1373.2,236.3 1373.3,232.8 1373.5,237.6 1373.6,235.2 1373.7,234.7 1373.9,233.8 1374.0,247.6 1374.2,230.7 1374.3,233.2 1374.4,232.2 1374.6,242.7 1374.7,233.7 1374.9,242.9 1375.0,236.0 1375.1,234.8 1375.3,226.2 1375.4,241.8 1375.6,237.7 1375.7,236.8 1375.8,233.6 1376.0,231.7 1376.1,226.5 1376.3,239.5 1376.4,235.3 1376.5,231.4 1376.7,229.7 1376.8,234.0 1377.0,232.6 1377.1,242.7 1377.2,237.4 1377.4,229.0 1377.5,225.8 1377.7,230.8 1377.8,226.6 1377.9,232.3 1378.1,234.1 1378.2,235.3 1378.4,233.8 1378.5,230.0 1378.6,234.6 1378.8,225.4 1378.9,230.1 1379.1,235.3 1379.2,231.9 1379.3,222.3 1379.5,222.8 1379.6,219.8 1379.8,240.4 1379.9,219.8 1380.0,228.2 1380.2,240.1 1380.3,235.3 1380.5,243.1 1380.6,225.3 1380.7,232.7 1380.9,246.6 1381.0,227.6 1381.2,230.2 1381.3,225.5 1381.4,227.2 1381.6,229.5 1381.7,235.5 1381.9,221.3 1382.0,217.9 1382.1,226.7 1382.3,227.7 1382.4,235.0 1382.6,230.5 1382.7,222.1 1382.8,229.3 1383.0,232.5 1383.1,227.2 1383.3,223.2 1383.4,229.3 1383.5,221.2 1383.7,213.2 1383.8,232.9 1384.0,216.5 1384.1,222.3 1384.2,222.2 1384.4,222.0 1384.5,222.2 1384.7,214.8 1384.8,227.0 1384.9,223.8 1385.1,223.7 1385.2,230.1 1385.4,230.2 1385.5,231.6 1385.6,234.8 1385.8,226.0 1385.9,213.6 1386.1,224.5 1386.2,223.3 1386.3,223.7 1386.5,219.6 1386.6,217.9 1386.8,228.5 1386.9,229.8 1387.0,216.9 1387.2,227.4 1387.3,223.2 1387.5,222.1 1387.6,229.0 1387.7,224.7 1387.9,221.8 1388.0,225.9 1388.2,213.5 1388.3,222.5 1388.4,223.7 1388.6,218.2 1388.7,228.2 1388.9,229.0 1389.0,224.0 1389.1,227.0 1389.3,232.5 1389.4,235.2 1389.6,224.4 1389.7,231.4 1389.8,241.1 1390.0,229.8 1390.1,225.7 1390.3,226.1 1390.4,229.2 1390.5,225.3 1390.7,244.0 1390.8,229.0 1391.0,235.1 1391.1,234.5 1391.2,237.7 1391.4,230.3 1391.5,227.3 1391.7,245.1 1391.8,235.6 1391.9,237.3 1392.1,238.4 1392.2,245.1 1392.4,242.8 1392.5,245.7 1392.6,244.3 1392.8,241.0 1392.9,242.2 1393.1,237.1 1393.2,230.9 1393.3,241.1 1393.5,237.0 1393.6,258.1 1393.8,252.8 1393.9,251.2 1394.0,242.0 1394.2,257.0 1394.3,236.6 1394.5,239.8 1394.6,242.6 1394.7,242.1 1394.9,248.4 1395.0,249.1 1395.2,258.8 1395.3,254.2 1395.4,255.7 1395.6,251.7 1395.7,249.0 1395.9,246.4 1396.0,242.3 1396.1,246.1 1396.3,249.1 1396.4,255.6 1396.6,242.8 1396.7,244.9 1396.8,253.7 1397.0,247.2 1397.1,254.9 1397.3,251.3 1397.4,249.8 1397.5,247.1 1397.7,254.0 1397.8,250.9 1398.0,251.9 1398.1,252.1 1398.2,256.7 1398.4,256.8 1398.5,247.4 1398.7,255.7 1398.8,258.9 1398.9,262.5 1399.1,261.4 1399.2,259.6 1399.4,252.0 1399.5,254.2 1399.6,263.1 1399.8,255.0 1399.9,264.1 1400.1,265.5 1400.2,253.8 1400.3,261.7 1400.5,259.1 1400.6,270.1 1400.8,264.2 1400.9,257.5 1401.0,262.3 1401.2,255.8 1401.3,259.7 1401.5,261.7 1401.6,261.5 1401.7,262.3 1401.9,256.3 1402.0,251.6 1402.2,259.1 1402.3,252.9 1402.4,257.5 1402.6,271.7 1402.7,266.8 1402.9,260.0 1403.0,253.6 1403.1,254.2 1403.3,262.4 1403.4,265.8 1403.6,258.8 1403.7,260.8 1403.8,261.2 1404.0,265.1 1404.1,249.9 1404.3,260.0 1404.4,261.0 1404.5,263.5 1404.7,260.3 1404.8,252.3 1405.0,254.7 1405.1,249.5 1405.2,258.0 1405.4,257.6 1405.5,259.0 1405.7,250.9 1405.8,249.6 1405.9,263.2 1406.1,255.8 1406.2,263.6 1406.4,256.4 1406.5,246.0 1406.6,257.6 1406.8,259.5 1406.9,250.2 1407.1,242.0 1407.2,255.4 1407.3,250.8 1407.5,252.7 1407.6,236.4 1407.8,253.0 1407.9,235.4 1408.0,245.2 1408.2,254.4 1408.3,239.3 1408.5,238.8 1408.6,246.1 1408.7,257.2 1408.9,256.6 1409.0,244.0 1409.2,252.5 1409.3,249.7 1409.4,247.6 1409.6,247.7 1409.7,241.2 1409.9,249.3 1410.0,250.3 1410.1,259.1 1410.3,248.7 1410.4,229.3 1410.6,235.9 1410.7,244.2 1410.8,242.4 1411.0,231.0 1411.1,240.5 1411.3,238.9 1411.4,240.3 1411.5,239.6 1411.7,249.5 1411.8,248.2 1412.0,243.5 1412.1,233.0 1412.2,234.3 1412.4,235.3 1412.5,238.7 1412.7,236.5 1412.8,237.0 1412.9,233.7 1413.1,244.5 1413.2,244.0 1413.4,244.7 1413.5,238.8 1413.6,242.0 1413.8,234.3 1413.9,233.8 1414.1,236.7 1414.2,243.3 1414.3,239.3 1414.5,233.8 1414.6,241.1 1414.8,243.2 1414.9,242.0 1415.0,237.5 1415.2,241.9 1415.3,239.4 1415.5,240.3 1415.6,241.9 1415.7,246.9 1415.9,253.3 1416.0,252.0 1416.2,247.1 1416.3,241.6 1416.4,242.4 1416.6,242.9 1416.7,251.1 1416.9,229.5 1417.0,246.7 1417.1,234.4 1417.3,245.7 1417.4,253.4 1417.6,241.2 1417.7,233.9 1417.8,253.9 1418.0,255.3 1418.1,249.9 1418.3,254.3 1418.4,243.2 1418.5,254.3 1418.7,257.4 1418.8,251.8 1419.0,250.1 1419.1,255.7 1419.2,255.1 1419.4,245.1 1419.5,256.8 1419.7,253.7 1419.8,250.8 1419.9,257.2 1420.1,255.4 1420.2,254.6 1420.4,248.1 1420.5,255.5 1420.6,245.3 1420.8,250.9 1420.9,242.7 1421.1,242.9 1421.2,254.6 1421.3,252.0 1421.5,253.1 1421.6,256.0 1421.8,255.0 1421.9,248.6 1422.0,254.3 1422.2,253.4 1422.3,251.3 1422.5,253.5 1422.6,252.5 1422.7,251.2 1422.9,253.1 1423.0,257.2 1423.2,266.0 1423.3,251.1 1423.4,258.3 1423.6,248.2 1423.7,264.2 1423.9,254.4 1424.0,257.0 1424.1,263.1 1424.3,261.8 1424.4,249.1 1424.6,259.8 1424.7,255.9 1424.8,260.4 1425.0,258.2 1425.1,261.3 1425.3,259.2 1425.4,257.1 1425.5,264.0 1425.7,243.8 1425.8,256.0 1426.0,253.5 1426.1,257.7 1426.2,256.4 1426.4,258.0 1426.5,256.4 1426.7,256.6 1426.8,250.7 1426.9,259.0 1427.1,260.9 1427.2,256.4 1427.4,256.2 1427.5,256.4 1427.6,268.3 1427.8,260.9 1427.9,262.0 1428.1,258.6 1428.2,257.7 1428.3,255.9 1428.5,268.2 1428.6,252.0 1428.8,262.2 1428.9,260.7 1429.0,259.6 1429.2,253.1 1429.3,254.9 1429.5,266.1 1429.6,257.8 1429.7,265.8 1429.9,267.5 1430.0,264.5 1430.2,265.5 1430.3,255.7 1430.4,259.5 1430.6,265.4 1430.7,255.8 1430.9,270.5 1431.0,259.5 1431.1,262.1 1431.3,257.4 1431.4,264.4 1431.6,259.0 1431.7,261.6 1431.8,257.2 1432.0,268.9 1432.1,255.0 1432.3,265.4 1432.4,264.5 1432.5,265.6 1432.7,258.5 1432.8,268.7 1433.0,268.5 1433.1,264.6 1433.2,265.5 1433.4,263.3 1433.5,267.3 1433.7,260.2 1433.8,267.1 1433.9,266.5 1434.1,257.7 1434.2,251.9 1434.4,264.2 1434.5,264.1 1434.6,270.9 1434.8,265.4 1434.9,262.8 1435.1,258.7 1435.2,265.0 1435.3,262.7 1435.5,260.3 1435.6,265.1 1435.8,271.0 1435.9,266.4 1436.0,260.9 1436.2,267.7 1436.3,260.9 1436.5,258.7 1436.6,268.8 1436.7,263.8 1436.9,271.9 1437.0,268.1 1437.2,262.8 1437.3,267.9 1437.4,273.1 1437.6,266.0 1437.7,261.9 1437.9,263.9 1438.0,263.2 1438.1,261.5 1438.3,261.1 1438.4,269.3 1438.6,272.7 1438.7,265.7 1438.8,271.2 1439.0,271.8 1439.1,275.6 1439.3,266.7 1439.4,265.9 1439.5,269.7 1439.7,268.1 1439.8,269.2 1440.0,273.9 1440.1,265.7 1440.2,268.9 1440.4,263.2 1440.5,267.1 1440.7,264.7 1440.8,264.3 1440.9,266.9 1441.1,265.9 1441.2,269.8 1441.4,271.9 1441.5,261.0 1441.6,272.9 1441.8,257.6 1441.9,269.4 1442.1,271.6 1442.2,265.2 1442.3,267.2 1442.5,264.6 1442.6,272.6 1442.8,253.3 1442.9,263.8 1443.0,259.3 1443.2,269.4 1443.3,274.7 1443.5,274.2 1443.6,271.7 1443.7,269.8 1443.9,265.0 1444.0,274.4 1444.2,271.6 1444.3,264.7 1444.4,262.7 1444.6,265.8 1444.7,273.9 1444.9,274.7 1445.0,276.5 1445.1,265.2 1445.3,267.2 1445.4,275.5 1445.6,270.0 1445.7,272.6 1445.8,262.7 1446.0,267.3 1446.1,269.0 1446.3,267.4 1446.4,267.1 1446.5,261.4 1446.7,276.8 1446.8,269.8 1447.0,262.3 1447.1,274.3 1447.2,269.5 1447.4,272.6 1447.5,268.4 1447.7,265.6 1447.8,265.7 1447.9,270.9 1448.1,273.0 1448.2,271.7 1448.4,272.4 1448.5,275.1 1448.6,270.8 1448.8,274.2 1448.9,274.7 1449.1,270.9 1449.2,269.2 1449.3,267.5 1449.5,263.9 1449.6,262.2 1449.8,275.8 1449.9,269.5 1450.0,267.0 1450.2,277.1 1450.3,274.2 1450.5,269.9 1450.6,274.4 1450.7,268.8 1450.9,271.4 1451.0,278.3 1451.2,274.7 1451.3,268.4 1451.4,273.0 1451.6,275.3 1451.7,269.2 1451.9,267.8 1452.0,278.6 1452.1,268.4 1452.3,263.6 1452.4,270.5 1452.6,280.6 1452.7,272.8 1452.8,274.4 1453.0,259.7 1453.1,267.3 1453.3,275.6 1453.4,268.0 1453.5,276.1 1453.7,272.2 1453.8,271.8 1454.0,277.9 1454.1,267.5 1454.2,267.7 1454.4,270.4 1454.5,270.9 1454.7,261.8 1454.8,275.6 1454.9,270.9 1455.1,269.0 1455.2,272.7 1455.4,267.8 1455.5,275.4 1455.6,270.0 1455.8,273.0 1455.9,265.4 1456.1,268.2 1456.2,271.3 1456.3,265.0 1456.5,266.3 1456.6,269.1 1456.8,274.6 1456.9,272.9 1457.0,273.5 1457.2,270.6 1457.3,273.4 1457.5,276.4 1457.6,269.8 1457.7,271.1 1457.9,271.7 1458.0,259.4 1458.2,268.4 1458.3,270.8 1458.4,272.3 1458.6,267.2 1458.7,273.3 1458.9,265.5 1459.0,267.7 1459.1,276.5 1459.3,262.0 1459.4,268.0 1459.6,267.6 1459.7,267.8 1459.8,265.6 1460.0,271.2 1460.1,262.9 1460.3,261.7 1460.4,270.2 1460.5,262.2 1460.7,269.6 1460.8,267.9 1461.0,264.4 1461.1,266.0 1461.2,267.1 1461.4,269.7 1461.5,264.4 1461.7,266.4 1461.8,260.5 1461.9,266.0 1462.1,258.0 1462.2,267.0 1462.4,264.9 1462.5,277.1 1462.6,273.2 1462.8,266.2 1462.9,271.4 1463.1,268.2 1463.2,261.2 1463.3,255.0 1463.5,272.0 1463.6,268.5 1463.8,257.1 1463.9,269.6 1464.0,270.9 1464.2,263.1 1464.3,270.2 1464.5,258.0 1464.6,265.2 1464.7,266.4 1464.9,270.0 1465.0,268.1 1465.2,267.2 1465.3,268.8 1465.4,262.9 1465.6,273.2 1465.7,264.3 1465.9,269.8 1466.0,265.9 1466.1,264.7 1466.3,268.7 1466.4,267.9 1466.6,272.3 1466.7,270.9 1466.8,262.9 1467.0,268.1 1467.1,266.1 1467.3,261.7 1467.4,260.2 1467.5,266.7 1467.7,262.8 1467.8,253.3 1468.0,264.9 1468.1,266.4 1468.2,265.7 1468.4,259.3 1468.5,262.3 1468.7,271.8 1468.8,261.3 1468.9,263.5 1469.1,276.3 1469.2,266.7 1469.4,262.5 1469.5,255.4 1469.6,266.3 1469.8,258.0 1469.9,264.6 1470.1,260.5 1470.2,256.5 1470.3,272.7 1470.5,264.0 1470.6,269.0 1470.8,268.1 1470.9,260.8 1471.0,264.8 1471.2,262.6 1471.3,269.0 1471.5,266.4 1471.6,262.5 1471.7,272.3 1471.9,266.7 1472.0,266.4 1472.2,260.2 1472.3,266.0 1472.4,256.8 1472.6,266.2 1472.7,259.3 1472.9,264.8 1473.0,262.5 1473.1,264.9 1473.3,265.5 1473.4,263.5 1473.6,263.4 1473.7,256.3 1473.8,254.3 1474.0,269.8 1474.1,266.4 1474.3,256.3 1474.4,272.9 1474.5,260.0 1474.7,266.0 1474.8,265.5 1475.0,263.9 1475.1,266.4 1475.2,256.6 1475.4,263.2 1475.5,262.1 1475.7,263.7 1475.8,261.9 1475.9,260.1 1476.1,259.6 1476.2,271.1 1476.4,259.0 1476.5,265.0 1476.6,264.9 1476.8,262.6 1476.9,265.2 1477.1,265.8 1477.2,260.5 1477.3,264.7 1477.5,272.5 1477.6,257.8 1477.8,260.3 1477.9,259.2 1478.0,272.9 1478.2,256.1 1478.3,263.0 1478.5,267.6 1478.6,258.7 1478.7,262.3 1478.9,259.5 1479.0,256.4 1479.2,262.6 1479.3,265.4 1479.4,261.0 1479.6,263.8 1479.7,266.4 1479.9,268.9 1480.0,256.9 1480.1,266.1 1480.3,260.0 1480.4,253.7 1480.6,259.2 1480.7,266.2 1480.8,264.6 1481.0,257.7 1481.1,271.0 1481.3,265.1 1481.4,262.8 1481.5,260.5 1481.7,265.2 1481.8,261.3 1482.0,268.8 1482.1,264.8 1482.2,266.3 1482.4,261.7 1482.5,256.0 1482.7,265.9 1482.8,258.3 1482.9,262.8 1483.1,263.3 1483.2,256.4 1483.4,267.8 1483.5,256.4 1483.6,270.8 1483.8,260.5 1483.9,268.2 1484.1,269.8 1484.2,259.3 1484.3,259.9 1484.5,268.2 1484.6,264.5 1484.8,264.0 1484.9,254.7 1485.0,255.6 1485.2,266.3 1485.3,270.7 1485.5,260.3 1485.6,259.5 1485.7,264.8 1485.9,266.1 1486.0,266.6 1486.2,261.7 1486.3,254.4 1486.4,271.0 1486.6,261.5 1486.7,270.1 1486.9,254.3 1487.0,265.8 1487.1,261.6 1487.3,258.8 1487.4,268.8 1487.6,270.4 1487.7,261.3 1487.8,267.3 1488.0,258.9 1488.1,261.2 1488.3,263.0 1488.4,262.6 1488.5,267.4 1488.7,258.4 1488.8,272.8 1489.0,269.1 1489.1,263.3 1489.2,258.6 1489.4,252.8 1489.5,264.1 1489.7,261.0 1489.8,265.0 1489.9,259.4 1490.1,264.5 1490.2,264.2 1490.4,264.6 1490.5,266.0 1490.6,266.0 1490.8,269.3 1490.9,260.8 1491.1,268.2 1491.2,265.5 1491.3,262.7 1491.5,259.9 1491.6,271.8 1491.8,265.9 1491.9,262.3 1492.0,265.2 1492.2,264.9 1492.3,262.4 1492.5,258.3 1492.6,265.7 1492.7,264.2 1492.9,263.6 1493.0,269.8 1493.2,258.7 1493.3,260.5 1493.4,265.9 1493.6,269.1 1493.7,268.1 1493.9,268.7 1494.0,246.1 1494.1,267.6 1494.3,267.2 1494.4,268.5 1494.6,262.0 1494.7,267.8 1494.8,270.1 1495.0,273.1 1495.1,266.6 1495.3,259.0 1495.4,265.7 1495.5,268.5 1495.7,267.9 1495.8,274.7 1496.0,264.5 1496.1,260.6 1496.2,262.4 1496.4,268.7 1496.5,261.7 1496.7,260.5 1496.8,261.5 1496.9,271.3 1497.1,266.7 1497.2,263.9 1497.4,269.6 1497.5,268.8 1497.6,260.9 1497.8,269.5 1497.9,266.7 1498.1,255.6 1498.2,259.8 1498.3,266.7 1498.5,267.8 1498.6,264.1 1498.8,260.6 1498.9,266.6 1499.0,256.5 1499.2,268.0 1499.3,264.6 1499.5,265.1 1499.6,262.1 1499.7,269.2 1499.9,253.9 1500.0,260.9 1500.2,267.8 1500.3,261.6 1500.4,272.0 1500.6,266.9 1500.7,261.2 1500.9,270.2 1501.0,264.3 1501.1,267.5 1501.3,261.7 1501.4,261.7 1501.6,268.0 1501.7,265.0 1501.8,260.8 1502.0,256.9 1502.1,267.5 1502.3,279.8 1502.4,260.2 1502.5,267.5 1502.7,250.0 1502.8,257.4 1503.0,267.3 1503.1,271.7 1503.2,264.3 1503.4,266.6 1503.5,265.1 1503.7,268.7 1503.8,258.5 1503.9,266.8 1504.1,261.6 1504.2,262.0 1504.4,263.6 1504.5,262.5 1504.6,259.8 1504.8,262.2 1504.9,258.8 1505.1,270.7 1505.2,269.7 1505.3,261.3 1505.5,271.1 1505.6,269.6 1505.8,265.7 1505.9,260.7 1506.0,264.5 1506.2,266.1 1506.3,270.1 1506.5,262.4 1506.6,260.5 1506.7,274.5 1506.9,270.1 1507.0,264.8 1507.2,258.8 1507.3,265.7 1507.4,268.8 1507.6,267.0 1507.7,267.4 1507.9,263.5 1508.0,268.9 1508.1,260.4 1508.3,261.2 1508.4,261.0 1508.6,260.3 1508.7,273.0 1508.8,255.2 1509.0,264.6 1509.1,258.7 1509.3,257.4 1509.4,264.0 1509.5,255.9 1509.7,263.1 1509.8,274.8 1510.0,263.1 1510.1,265.9 1510.2,259.5 1510.4,266.1 1510.5,256.4 1510.7,264.7 1510.8,263.2 1510.9,274.4 1511.1,263.4 1511.2,262.1 1511.4,261.1 1511.5,258.0 1511.6,267.7 1511.8,271.0 1511.9,262.1 1512.1,267.4 1512.2,262.3 1512.3,266.0 1512.5,266.3 1512.6,257.1 1512.8,260.4 1512.9,268.7 1513.0,254.9 1513.2,264.2 1513.3,262.6 1513.5,259.7 1513.6,264.8 1513.7,265.8 1513.9,267.0 1514.0,251.5 1514.2,272.6 1514.3,262.1 1514.4,269.5 1514.6,263.9 1514.7,261.7 1514.9,264.2 1515.0,280.0 1515.1,272.2 1515.3,262.9 1515.4,265.7 1515.6,270.1 1515.7,267.5 1515.8,265.4 1516.0,263.8 1516.1,255.3 1516.3,268.4 1516.4,270.1 1516.5,275.7 1516.7,262.1 1516.8,268.0 1517.0,264.7 1517.1,271.0 1517.2,264.4 1517.4,261.7 1517.5,256.7 1517.7,268.4 1517.8,265.7 1517.9,270.5 1518.1,262.3 1518.2,277.7 1518.4,261.6 1518.5,267.6 1518.6,267.1 1518.8,270.5 1518.9,264.3 1519.1,260.7 1519.2,260.4 1519.3,269.2 1519.5,265.7 1519.6,266.9 1519.8,261.3 1519.9,266.5 1520.0,266.3 1520.2,268.3 1520.3,258.2 1520.5,261.6 1520.6,273.8 1520.7,263.5 1520.9,265.0 1521.0,263.5 1521.2,258.2 1521.3,260.2 1521.4,267.3 1521.6,262.2 1521.7,275.4 1521.9,258.3 1522.0,256.1 1522.1,263.7 1522.3,259.7 1522.4,272.3 1522.6,263.6 1522.7,268.2 1522.8,258.8 1523.0,268.9 1523.1,268.8 1523.3,271.7 1523.4,266.8 1523.5,268.3 1523.7,266.6 1523.8,270.3 1524.0,263.8 1524.1,268.5 1524.2,263.1 1524.4,269.3 1524.5,264.6 1524.7,262.8 1524.8,262.7 1524.9,273.1 1525.1,258.5 1525.2,258.9 1525.4,269.1 1525.5,261.3 1525.6,263.9 1525.8,263.8 1525.9,277.2 1526.1,262.9 1526.2,262.7 1526.3,264.4 1526.5,267.4 1526.6,268.7 1526.8,259.2 1526.9,268.5 1527.0,275.8 1527.2,257.8 1527.3,269.2 1527.5,270.2 1527.6,267.2 1527.7,265.6 1527.9,255.2 1528.0,272.3 1528.2,265.0 1528.3,265.6 1528.4,272.6 1528.6,255.4 1528.7,266.4 1528.9,269.6 1529.0,270.2 1529.1,269.7 1529.3,276.6 1529.4,268.2 1529.6,271.8 1529.7,270.6 1529.8,259.8 1530.0,263.3 1530.1,277.0 1530.3,265.7 1530.4,266.7 1530.5,260.7 1530.7,265.4 1530.8,260.8 1531.0,264.2 1531.1,269.8 1531.2,263.2 1531.4,264.3 1531.5,273.7 1531.7,269.5 1531.8,269.8 1531.9,272.1 1532.1,264.7 1532.2,265.5 1532.4,257.6 1532.5,271.0 1532.6,266.5 1532.8,267.5 1532.9,262.3 1533.1,270.5 1533.2,270.6 1533.3,268.5 1533.5,260.0 1533.6,263.6 1533.8,267.5 1533.9,263.7 1534.0,269.6 1534.2,272.6 1534.3,264.2 1534.5,267.0 1534.6,264.6 1534.7,272.8 1534.9,272.2 1535.0,280.6 1535.2,268.0 1535.3,263.5 1535.4,270.0 1535.6,266.9 1535.7,269.0 1535.9,274.0 1536.0,266.8 1536.1,271.6 1536.3,258.1 1536.4,273.2 1536.6,268.9 1536.7,267.1 1536.8,265.9 1537.0,275.1 1537.1,265.9 1537.3,274.4 1537.4,266.0 1537.5,268.7 1537.7,270.2 1537.8,278.1 1538.0,269.7 1538.1,270.6 1538.2,268.3 1538.4,267.2 1538.5,265.8 1538.7,277.2 1538.8,281.3 1538.9,265.5 1539.1,269.5 1539.2,263.2 1539.4,273.3 1539.5,272.1 1539.6,269.4 1539.8,265.1 1539.9,272.6 1540.1,271.9 1540.2,268.2 1540.3,272.5 1540.5,262.7 1540.6,266.3 1540.8,264.7 1540.9,269.7 1541.0,277.1 1541.2,269.5 1541.3,274.6 1541.5,269.2 1541.6,267.4 1541.7,274.1 1541.9,272.0 1542.0,276.1 1542.2,274.1 1542.3,265.7 1542.4,257.5 1542.6,270.2 1542.7,264.1 1542.9,263.0 1543.0,262.7 1543.1,266.7 1543.3,268.8 1543.4,269.8 1543.6,279.4 1543.7,264.1 1543.8,269.8 1544.0,264.0 1544.1,265.2 1544.3,270.2 1544.4,271.9 1544.5,264.0 1544.7,275.4 1544.8,265.7 1545.0,274.6 1545.1,269.9 1545.2,274.4 1545.4,272.8 1545.5,268.9 1545.7,272.5 1545.8,264.0 1545.9,264.2 1546.1,268.7 1546.2,276.8 1546.4,266.9 1546.5,267.6 1546.6,278.2 1546.8,270.7 1546.9,270.5 1547.1,265.6 1547.2,270.8 1547.3,273.3 1547.5,270.3 1547.6,274.2 1547.8,272.2 1547.9,275.5 1548.0,274.5 1548.2,270.1 1548.3,274.8 1548.5,279.1 1548.6,272.2 1548.7,265.1 1548.9,271.7 1549.0,269.9 1549.2,282.9 1549.3,274.4 1549.4,265.7 1549.6,270.0 1549.7,277.7 1549.9,265.5 1550.0,268.6 1550.1,270.9 1550.3,270.2 1550.4,265.9 1550.6,271.5 1550.7,264.4 1550.8,268.2 1551.0,268.1 1551.1,269.5 1551.3,269.5 1551.4,270.9 1551.5,269.3 1551.7,269.0 1551.8,272.6 1552.0,275.1 1552.1,275.4 1552.2,265.6 1552.4,272.0 1552.5,274.4 1552.7,269.6 1552.8,273.0 1552.9,269.8 1553.1,272.5 1553.2,263.7 1553.4,272.9 1553.5,268.4 1553.6,267.2 1553.8,268.0 1553.9,275.1 1554.1,274.9 1554.2,271.6 1554.3,274.4 1554.5,268.4 1554.6,264.4 1554.8,261.5 1554.9,269.8 1555.0,269.4 1555.2,270.1 1555.3,270.2 1555.5,275.5 1555.6,265.4 1555.7,266.0 1555.9,278.6 1556.0,273.1 1556.2,268.0 1556.3,259.7 1556.4,261.9 1556.6,267.4 1556.7,268.6 1556.9,269.8 1557.0,267.7 1557.1,274.1 1557.3,263.0 1557.4,267.1 1557.6,265.1 1557.7,271.9 1557.8,269.0 1558.0,271.8 1558.1,268.3 1558.3,285.7 1558.4,271.1 1558.5,264.0 1558.7,267.5 1558.8,265.5 1559.0,270.9 1559.1,271.8 1559.2,268.9 1559.4,266.1 1559.5,263.6 1559.7,274.4 1559.8,272.0 1559.9,252.4 1560.1,266.7 1560.2,262.2 1560.4,264.4 1560.5,274.3 1560.6,260.5 1560.8,260.8 1560.9,277.6 1561.1,263.3 1561.2,264.4 1561.3,271.0 1561.5,262.9 1561.6,265.5 1561.8,266.3 1561.9,271.9 1562.0,257.1 1562.2,260.8 1562.3,264.1 1562.5,269.1 1562.6,261.3 1562.7,266.6 1562.9,259.7 1563.0,262.1 1563.2,270.2 1563.3,262.6 1563.4,278.2 1563.6,265.2 1563.7,268.9 1563.9,266.8 1564.0,255.3 1564.1,255.2 1564.3,265.0 1564.4,257.0 1564.6,259.5 1564.7,260.4 1564.8,253.7 1565.0,267.6 1565.1,265.5 1565.3,262.9 1565.4,264.0 1565.5,256.5 1565.7,265.2 1565.8,256.4 1566.0,268.3 1566.1,256.9 1566.2,257.3 1566.4,265.8 1566.5,263.1 1566.7,254.8 1566.8,262.5 1566.9,259.3 1567.1,259.2 1567.2,262.1 1567.4,262.0 1567.5,263.9 1567.6,261.0 1567.8,260.1 1567.9,257.7 1568.1,265.8 1568.2,254.0 1568.3,267.7 1568.5,269.0 1568.6,268.8 1568.8,256.9 1568.9,268.3 1569.0,263.3 1569.2,262.9 1569.3,274.3 1569.5,258.2 1569.6,260.1 1569.7,250.6 1569.9,245.6 1570.0,258.6 1570.2,259.3 1570.3,260.7 1570.4,258.6 1570.6,246.8 1570.7,259.0 1570.9,262.9 1571.0,265.2 1571.1,252.2 1571.3,252.6 1571.4,253.6 1571.6,253.9 1571.7,248.9 1571.8,253.8 1572.0,265.5 1572.1,251.9 1572.3,247.8 1572.4,256.1 1572.5,254.9 1572.7,261.1 1572.8,253.8 1573.0,256.8 1573.1,253.5 1573.2,252.9 1573.4,259.8 1573.5,259.1 1573.7,257.8 1573.8,262.9 1573.9,254.0 1574.1,258.4 1574.2,259.5 1574.4,264.5 1574.5,248.9 1574.6,256.8 1574.8,261.0 1574.9,255.9 1575.1,259.4 1575.2,262.5 1575.3,261.5 1575.5,250.4 1575.6,253.1 1575.8,244.9 1575.9,262.7 1576.0,260.6 1576.2,266.4 1576.3,259.9 1576.5,254.0 1576.6,265.3 1576.7,253.3 1576.9,260.1 1577.0,259.2 1577.2,264.2 1577.3,265.0 1577.4,258.4 1577.6,257.0 1577.7,260.6 1577.9,258.0 1578.0,265.9 1578.1,263.1 1578.3,268.4 1578.4,274.6 1578.6,257.3 1578.7,258.8 1578.8,264.3 1579.0,264.1 1579.1,260.5 1579.3,253.8 1579.4,275.2 1579.5,263.0 1579.7,256.9 1579.8,250.9 1580.0,270.0 1580.1,264.8 1580.2,263.3 1580.4,258.3 1580.5,263.0 1580.7,261.8 1580.8,251.4 1580.9,277.2 1581.1,266.2 1581.2,262.5 1581.4,259.5 1581.5,261.4 1581.6,276.4 1581.8,266.6 1581.9,258.2 1582.1,269.2 1582.2,267.4 1582.3,267.7 1582.5,264.5 1582.6,264.5 1582.8,266.5 1582.9,264.5 1583.0,253.2 1583.2,260.9 1583.3,265.9 1583.5,258.2 1583.6,265.5 1583.7,264.7 1583.9,269.9 1584.0,267.3 1584.2,265.1 1584.3,265.3 1584.4,268.9 1584.6,271.5 1584.7,261.9 1584.9,259.8 1585.0,263.7 1585.1,256.2 1585.3,263.7 1585.4,271.6 1585.6,272.5 1585.7,275.2 1585.8,268.3 1586.0,268.8 1586.1,265.3 1586.3,265.8 1586.4,269.8 1586.5,272.9 1586.7,270.7 1586.8,259.0 1587.0,271.2 1587.1,268.9 1587.2,266.2 1587.4,269.8 1587.5,273.5 1587.7,270.0 1587.8,266.0 1587.9,285.4 1588.1,266.6 1588.2,271.9 1588.4,275.8 1588.5,265.8 1588.6,272.6 1588.8,266.1 1588.9,268.9 1589.1,266.7 1589.2,278.7 1589.3,264.0 1589.5,273.0 1589.6,270.8 1589.8,261.4 1589.9,285.4 1590.0,268.2 1590.2,268.7 1590.3,272.1 1590.5,266.9 1590.6,267.6 1590.7,270.9 1590.9,267.2 1591.0,271.9 1591.2,277.4 1591.3,266.8 1591.4,264.3 1591.6,271.1 1591.7,273.7 1591.9,275.0 1592.0,262.7 1592.1,261.1 1592.3,276.2 1592.4,275.5 1592.6,279.2 1592.7,267.9 1592.8,275.0 1593.0,277.1 1593.1,264.1 1593.3,277.5 1593.4,279.3 1593.5,275.5 1593.7,275.3 1593.8,276.3 1594.0,271.8 1594.1,266.5 1594.2,268.9 1594.4,272.4 1594.5,269.4 1594.7,278.1 1594.8,271.6 1594.9,273.0 1595.1,265.5 1595.2,275.5 1595.4,270.5 1595.5,280.7 1595.6,266.0 1595.8,275.4 1595.9,272.2 1596.1,272.4 1596.2,281.9 1596.3,278.6 1596.5,270.4 1596.6,280.6 1596.8,269.0 1596.9,278.0 1597.0,266.7 1597.2,273.1 1597.3,273.3 1597.5,273.2 1597.6,267.6 1597.7,266.2 1597.9,274.7 1598.0,277.6 1598.2,275.1 1598.3,273.4 1598.4,268.2 1598.6,273.8 1598.7,272.6 1598.9,271.9 1599.0,276.0 1599.1,276.0 1599.3,277.0 1599.4,274.1 1599.6,271.5 1599.7,274.4 1599.8,273.9 1600.0,268.0 1600.1,273.8 1600.3,267.9 1600.4,266.5 1600.5,271.7 1600.7,272.5 1600.8,280.9 1601.0,274.0 1601.1,277.8 1601.2,281.8 1601.4,275.9 1601.5,277.1 1601.7,272.3 1601.8,279.0 1601.9,275.6 1602.1,275.6 1602.2,270.2 1602.4,271.0 1602.5,272.2 1602.6,275.6 1602.8,280.0 1602.9,268.3 1603.1,273.4 1603.2,273.6 1603.3,285.2 1603.5,274.0 1603.6,272.4 1603.8,278.2 1603.9,269.8 1604.0,277.1 1604.2,267.1 1604.3,283.7 1604.5,274.3 1604.6,270.9 1604.7,268.5 1604.9,273.6 1605.0,274.6 1605.2,270.9 1605.3,279.5 1605.4,272.6 1605.6,274.4 1605.7,275.2 1605.9,280.0 1606.0,272.1 1606.1,274.1 1606.3,275.0 1606.4,276.4 1606.6,265.2 1606.7,278.7 1606.8,272.8 1607.0,270.0 1607.1,273.1 1607.3,264.4 1607.4,269.6 1607.5,273.9 1607.7,279.2 1607.8,272.6 1608.0,274.7 1608.1,271.5 1608.2,276.7 1608.4,270.9 1608.5,274.7 1608.7,271.0 1608.8,268.1 1608.9,267.9 1609.1,269.4 1609.2,277.7 1609.4,286.9 1609.5,271.3 1609.6,266.0 1609.8,274.5 1609.9,274.3 1610.1,269.5 1610.2,280.7 1610.3,275.8 1610.5,276.1 1610.6,272.0 1610.8,272.2 1610.9,276.0 1611.0,265.0 1611.2,267.6 1611.3,271.7 1611.5,264.4 1611.6,278.7 1611.7,268.1 1611.9,268.9 1612.0,272.4 1612.2,277.8 1612.3,270.5 1612.4,264.2 1612.6,266.2 1612.7,271.6 1612.9,267.7 1613.0,281.4 1613.1,280.9 1613.3,255.4 1613.4,265.8 1613.6,271.7 1613.7,280.8 1613.8,260.5 1614.0,267.8 1614.1,275.5 1614.3,266.5 1614.4,270.1 1614.5,267.3 1614.7,272.8 1614.8,264.5 1615.0,269.7 1615.1,262.7 1615.2,274.1 1615.4,272.4 1615.5,269.3 1615.7,269.7 1615.8,269.6 1615.9,267.8 1616.1,270.2 1616.2,271.2 1616.4,269.2 1616.5,266.7 1616.6,267.6 1616.8,267.3 1616.9,271.6 1617.1,270.2 1617.2,278.8 1617.3,268.7 1617.5,269.9 1617.6,266.5 1617.8,270.4 1617.9,267.4 1618.0,265.5 1618.2,270.3 1618.3,277.0 1618.5,265.4 1618.6,266.4 1618.7,269.3 1618.9,270.7 1619.0,275.6 1619.2,266.4 1619.3,268.8 1619.4,265.7 1619.6,265.4 1619.7,267.2 1619.9,264.2 1620.0,271.6 1620.1,274.4 1620.3,267.0 1620.4,266.1 1620.6,275.6 1620.7,268.4 1620.8,276.4 1621.0,255.8 1621.1,268.6 1621.3,264.6 1621.4,266.9 1621.5,273.2 1621.7,274.5 1621.8,268.6 1622.0,273.8 1622.1,259.8 1622.2,270.7 1622.4,268.6 1622.5,261.4 1622.7,273.6 1622.8,266.2 1622.9,271.4 1623.1,265.8 1623.2,270.2 1623.4,272.3 1623.5,269.4 1623.6,267.1 1623.8,272.2 1623.9,270.4 1624.1,267.4 1624.2,269.6 1624.3,269.0 1624.5,267.8 1624.6,277.0 1624.8,277.6 1624.9,267.0 1625.0,268.9 1625.2,265.0 1625.3,263.2 1625.5,274.8 1625.6,266.3 1625.7,271.0 1625.9,263.0 1626.0,266.4 1626.2,271.7 1626.3,273.4 1626.4,270.5 1626.6,271.3 1626.7,270.4 1626.9,274.1 1627.0,277.4 1627.1,272.1 1627.3,268.9 1627.4,264.6 1627.6,267.1 1627.7,267.9 1627.8,276.2 1628.0,262.1 1628.1,265.7 1628.3,264.6 1628.4,273.5 1628.5,263.5 1628.7,260.8 1628.8,259.8 1629.0,270.9 1629.1,261.7 1629.2,278.6 1629.4,274.4 1629.5,264.1 1629.7,267.8 1629.8,269.5 1629.9,262.4 1630.1,263.6 1630.2,266.4 1630.4,269.2 1630.5,270.7 1630.6,260.6 1630.8,271.3 1630.9,268.9 1631.1,268.2 1631.2,267.2 1631.3,274.3 1631.5,276.8 1631.6,267.3 1631.8,268.6 1631.9,262.0 1632.0,267.6 1632.2,272.7 1632.3,269.0 1632.5,271.2 1632.6,269.0 1632.7,270.0 1632.9,272.7 1633.0,273.2 1633.2,260.4 1633.3,268.6 1633.4,256.0 1633.6,269.7 1633.7,267.1 1633.9,266.9 1634.0,277.0 1634.1,271.4 1634.3,275.1 1634.4,272.7 1634.6,277.7 1634.7,268.7 1634.8,268.6 1635.0,269.4 1635.1,290.5 1635.3,267.8 1635.4,270.0 1635.5,276.3 1635.7,274.2 1635.8,267.6 1636.0,278.1 1636.1,272.2 1636.2,276.8 1636.4,272.8 1636.5,273.6" fill="none" stroke="#f00" stroke-width="1" shape-rendering="crispEdges"/>
<text font-family='"Liberation Sans", Arial, sans-serif' font-weight="normal" font-size="29" transform="translate(1163.92,35.49) scale(1.0408,1.0021)" fill="#000">(102)</text>
<text font-family='"Liberation Sans", Arial, sans-serif' font-weight="normal" font-size="29" transform="translate(1322.42,36.78) scale(1.0388,0.9575)" fill="#000">(112)</text>
<text font-family='"Liberation Sans", Arial, sans-serif' font-weight="normal" font-size="29" transform="translate(1107.94,149.88) scale(1.0342,1.0177)" fill="#000">(006)</text>
<text font-family='"Liberation Sans", Arial, sans-serif' font-weight="normal" font-size="29" transform="translate(1263.00,210.97) scale(0.9970,1.0027)" fill="#000">(108)</text>
<text font-family='"Liberation Sans", Arial, sans-serif' font-weight="normal" font-size="29" transform="translate(1357.99,195.75) scale(1.0051,0.9575)" fill="#000">(1012)</text>
<text font-family='"Liberation Sans", Arial, sans-serif' font-weight="normal" font-size="29" transform="translate(1418.98,229.26) scale(1.0063,0.9575)" fill="#000">(202)</text>
<text font-family='"Liberation Sans", Arial, sans-serif' font-weight="normal" font-size="29" transform="translate(1545.97,236.75) scale(1.0157,0.9575)" fill="#000">(213)</text>
<rect x="1522" y="38" width="164.6" height="74.6" fill="none" stroke="#333" stroke-width="1.5"/>
<line x1="1525" y1="57.3" x2="1590" y2="57.3" stroke="#000" stroke-width="1.2"/>
<line x1="1525" y1="93.3" x2="1591" y2="93.3" stroke="#f00" stroke-width="1.2"/>
<text font-family='"Liberation Sans", Arial, sans-serif' font-weight="normal" font-size="28" transform="translate(1597.38,66.50) scale(1.0482,0.9413)" fill="#000">Before</text>
<text font-family='"Liberation Sans", Arial, sans-serif' font-weight="normal" font-size="28" transform="translate(1597.48,101.98) scale(1.0552,0.9840)" fill="#000">After</text>
</svg>
</body></html>
